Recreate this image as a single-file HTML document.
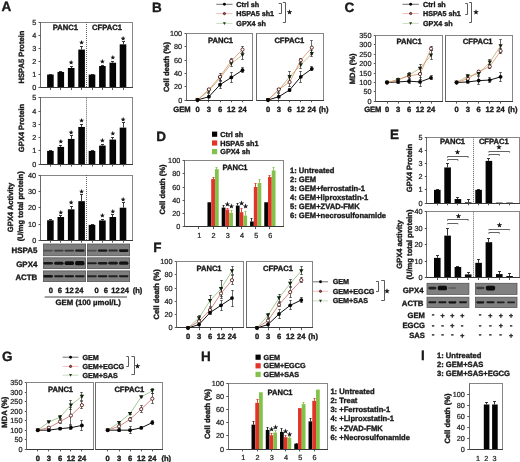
<!DOCTYPE html>
<html lang="en">
<head>
<meta charset="utf-8">
<title>Figure</title>
<style>
html,body{margin:0;padding:0;background:#fff;}
body{width:520px;height:462px;overflow:hidden;}
svg{display:block;font-family:"Liberation Sans",sans-serif;}
</style>
</head>
<body>
<svg width="520" height="462" viewBox="0 0 520 462" text-rendering="geometricPrecision">
<defs><filter id="bl" x="-30%" y="-60%" width="160%" height="220%"><feGaussianBlur stdDeviation="0.55"/></filter>
<filter id="soft"><feGaussianBlur stdDeviation="0.35"/></filter></defs>
<rect x="0" y="0" width="520" height="462" fill="#fff"/>
<g>
<text x="1.5" y="11.33" font-size="13.5" font-weight="bold" stroke="#1a1a1a" stroke-width="0.35" text-anchor="start" fill="#1a1a1a">A</text>
<rect x="47.1" y="74.56" width="6.6" height="13.14" fill="#050505"/>
<line x1="50.5" y1="74.5" x2="50.5" y2="74.56" stroke="#222" stroke-width="0.9"/>
<line x1="49" y1="74.5" x2="52" y2="74.5" stroke="#222" stroke-width="0.9"/>
<rect x="57.5" y="71.93" width="6.6" height="15.77" fill="#050505"/>
<line x1="60.5" y1="71.5" x2="60.5" y2="71.93" stroke="#222" stroke-width="0.9"/>
<line x1="59" y1="71.5" x2="62" y2="71.5" stroke="#222" stroke-width="0.9"/>
<rect x="67.9" y="67.99" width="6.6" height="19.71" fill="#050505"/>
<line x1="71.5" y1="66.5" x2="71.5" y2="67.99" stroke="#222" stroke-width="0.9"/>
<line x1="70" y1="66.5" x2="73" y2="66.5" stroke="#222" stroke-width="0.9"/>
<text x="71.2" y="63.91" font-size="4.7" font-family="DejaVu Sans, sans-serif" text-anchor="middle" fill="#0a0a0a" stroke="#0a0a0a" stroke-width="0.42">★</text>
<rect x="78.3" y="49.59" width="6.6" height="38.11" fill="#050505"/>
<line x1="81.5" y1="46.5" x2="81.5" y2="49.59" stroke="#222" stroke-width="0.9"/>
<line x1="80" y1="46.5" x2="83" y2="46.5" stroke="#222" stroke-width="0.9"/>
<text x="81.6" y="44.2" font-size="4.7" font-family="DejaVu Sans, sans-serif" text-anchor="middle" fill="#0a0a0a" stroke="#0a0a0a" stroke-width="0.42">★</text>
<rect x="88.7" y="74.56" width="6.6" height="13.14" fill="#050505"/>
<line x1="92.5" y1="74.5" x2="92.5" y2="74.56" stroke="#222" stroke-width="0.9"/>
<line x1="91" y1="74.5" x2="94" y2="74.5" stroke="#222" stroke-width="0.9"/>
<rect x="99.1" y="66.02" width="6.6" height="21.68" fill="#050505"/>
<line x1="102.5" y1="65.5" x2="102.5" y2="66.02" stroke="#222" stroke-width="0.9"/>
<line x1="101" y1="65.5" x2="104" y2="65.5" stroke="#222" stroke-width="0.9"/>
<text x="102.4" y="63.25" font-size="4.7" font-family="DejaVu Sans, sans-serif" text-anchor="middle" fill="#0a0a0a" stroke="#0a0a0a" stroke-width="0.42">★</text>
<rect x="109.5" y="62.73" width="6.6" height="24.97" fill="#050505"/>
<line x1="112.5" y1="61.5" x2="112.5" y2="62.73" stroke="#222" stroke-width="0.9"/>
<line x1="111" y1="61.5" x2="114" y2="61.5" stroke="#222" stroke-width="0.9"/>
<text x="112.8" y="59.05" font-size="4.7" font-family="DejaVu Sans, sans-serif" text-anchor="middle" fill="#0a0a0a" stroke="#0a0a0a" stroke-width="0.42">★</text>
<rect x="119.7" y="44.34" width="6.6" height="43.36" fill="#050505"/>
<line x1="123.5" y1="41.5" x2="123.5" y2="44.34" stroke="#222" stroke-width="0.9"/>
<line x1="122" y1="41.5" x2="125" y2="41.5" stroke="#222" stroke-width="0.9"/>
<text x="123" y="39.86" font-size="4.7" font-family="DejaVu Sans, sans-serif" text-anchor="middle" fill="#0a0a0a" stroke="#0a0a0a" stroke-width="0.42">★</text>
<rect x="40.5" y="22.5" width="92" height="65" fill="none" stroke="#868686" stroke-width="1"/>
<line x1="40" y1="87.5" x2="133" y2="87.5" stroke="#3a3a3a" stroke-width="1"/>
<line x1="40.5" y1="22.5" x2="40.5" y2="87.5" stroke="#6a6a6a" stroke-width="1"/>
<line x1="86.5" y1="22" x2="86.5" y2="87.7" stroke="#555" stroke-width="0.9" stroke-dasharray="1 1"/>
<line x1="38.5" y1="87.5" x2="40.5" y2="87.5" stroke="#444" stroke-width="0.9"/>
<text x="36.2" y="90.11" font-size="7.3" stroke="#222" stroke-width="0.22" text-anchor="end" fill="#222">0</text>
<line x1="38.5" y1="74.5" x2="40.5" y2="74.5" stroke="#444" stroke-width="0.9"/>
<text x="36.2" y="77.11" font-size="7.3" stroke="#222" stroke-width="0.22" text-anchor="end" fill="#222">1</text>
<line x1="38.5" y1="61.5" x2="40.5" y2="61.5" stroke="#444" stroke-width="0.9"/>
<text x="36.2" y="64.11" font-size="7.3" stroke="#222" stroke-width="0.22" text-anchor="end" fill="#222">2</text>
<line x1="38.5" y1="48.5" x2="40.5" y2="48.5" stroke="#444" stroke-width="0.9"/>
<text x="36.2" y="51.11" font-size="7.3" stroke="#222" stroke-width="0.22" text-anchor="end" fill="#222">3</text>
<line x1="38.5" y1="35.5" x2="40.5" y2="35.5" stroke="#444" stroke-width="0.9"/>
<text x="36.2" y="38.11" font-size="7.3" stroke="#222" stroke-width="0.22" text-anchor="end" fill="#222">4</text>
<line x1="38.5" y1="22.5" x2="40.5" y2="22.5" stroke="#444" stroke-width="0.9"/>
<text x="36.2" y="25.11" font-size="7.3" stroke="#222" stroke-width="0.22" text-anchor="end" fill="#222">5</text>
<line x1="50.5" y1="87.7" x2="50.5" y2="90" stroke="#444" stroke-width="0.9"/>
<line x1="60.5" y1="87.7" x2="60.5" y2="90" stroke="#444" stroke-width="0.9"/>
<line x1="71.5" y1="87.7" x2="71.5" y2="90" stroke="#444" stroke-width="0.9"/>
<line x1="81.5" y1="87.7" x2="81.5" y2="90" stroke="#444" stroke-width="0.9"/>
<line x1="92.5" y1="87.7" x2="92.5" y2="90" stroke="#444" stroke-width="0.9"/>
<line x1="102.5" y1="87.7" x2="102.5" y2="90" stroke="#444" stroke-width="0.9"/>
<line x1="112.5" y1="87.7" x2="112.5" y2="90" stroke="#444" stroke-width="0.9"/>
<line x1="123.5" y1="87.7" x2="123.5" y2="90" stroke="#444" stroke-width="0.9"/>
<rect x="47.1" y="150.9" width="6.6" height="13.3" fill="#050505"/>
<line x1="50.5" y1="150.5" x2="50.5" y2="150.9" stroke="#222" stroke-width="0.9"/>
<line x1="49" y1="150.5" x2="52" y2="150.5" stroke="#222" stroke-width="0.9"/>
<rect x="57.5" y="146.91" width="6.6" height="17.29" fill="#050505"/>
<line x1="60.5" y1="145.5" x2="60.5" y2="146.91" stroke="#222" stroke-width="0.9"/>
<line x1="59" y1="145.5" x2="62" y2="145.5" stroke="#222" stroke-width="0.9"/>
<text x="60.8" y="143.21" font-size="4.7" font-family="DejaVu Sans, sans-serif" text-anchor="middle" fill="#0a0a0a" stroke="#0a0a0a" stroke-width="0.42">★</text>
<rect x="67.9" y="138.93" width="6.6" height="25.27" fill="#050505"/>
<line x1="71.5" y1="135.5" x2="71.5" y2="138.93" stroke="#222" stroke-width="0.9"/>
<line x1="70" y1="135.5" x2="73" y2="135.5" stroke="#222" stroke-width="0.9"/>
<text x="71.2" y="133.5" font-size="4.7" font-family="DejaVu Sans, sans-serif" text-anchor="middle" fill="#0a0a0a" stroke="#0a0a0a" stroke-width="0.42">★</text>
<rect x="78.3" y="126.96" width="6.6" height="37.24" fill="#050505"/>
<line x1="81.5" y1="124.5" x2="81.5" y2="126.96" stroke="#222" stroke-width="0.9"/>
<line x1="80" y1="124.5" x2="83" y2="124.5" stroke="#222" stroke-width="0.9"/>
<text x="81.6" y="122.46" font-size="4.7" font-family="DejaVu Sans, sans-serif" text-anchor="middle" fill="#0a0a0a" stroke="#0a0a0a" stroke-width="0.42">★</text>
<rect x="88.7" y="150.9" width="6.6" height="13.3" fill="#050505"/>
<line x1="92.5" y1="150.5" x2="92.5" y2="150.9" stroke="#222" stroke-width="0.9"/>
<line x1="91" y1="150.5" x2="94" y2="150.5" stroke="#222" stroke-width="0.9"/>
<rect x="99.1" y="145.58" width="6.6" height="18.62" fill="#050505"/>
<line x1="102.5" y1="144.5" x2="102.5" y2="145.58" stroke="#222" stroke-width="0.9"/>
<line x1="101" y1="144.5" x2="104" y2="144.5" stroke="#222" stroke-width="0.9"/>
<text x="102.4" y="142.14" font-size="4.7" font-family="DejaVu Sans, sans-serif" text-anchor="middle" fill="#0a0a0a" stroke="#0a0a0a" stroke-width="0.42">★</text>
<rect x="109.5" y="139.59" width="6.6" height="24.6" fill="#050505"/>
<line x1="112.5" y1="137.5" x2="112.5" y2="139.59" stroke="#222" stroke-width="0.9"/>
<line x1="111" y1="137.5" x2="114" y2="137.5" stroke="#222" stroke-width="0.9"/>
<text x="112.8" y="135.49" font-size="4.7" font-family="DejaVu Sans, sans-serif" text-anchor="middle" fill="#0a0a0a" stroke="#0a0a0a" stroke-width="0.42">★</text>
<rect x="119.7" y="127.62" width="6.6" height="36.57" fill="#050505"/>
<line x1="123.5" y1="122.5" x2="123.5" y2="127.62" stroke="#222" stroke-width="0.9"/>
<line x1="122" y1="122.5" x2="125" y2="122.5" stroke="#222" stroke-width="0.9"/>
<text x="123" y="120.86" font-size="4.7" font-family="DejaVu Sans, sans-serif" text-anchor="middle" fill="#0a0a0a" stroke="#0a0a0a" stroke-width="0.42">★</text>
<rect x="40.5" y="97.5" width="92" height="67" fill="none" stroke="#868686" stroke-width="1"/>
<line x1="40" y1="164.5" x2="133" y2="164.5" stroke="#3a3a3a" stroke-width="1"/>
<line x1="40.5" y1="97.5" x2="40.5" y2="164.5" stroke="#6a6a6a" stroke-width="1"/>
<line x1="86.5" y1="97.7" x2="86.5" y2="164.2" stroke="#555" stroke-width="0.9" stroke-dasharray="1 1"/>
<line x1="38.5" y1="164.5" x2="40.5" y2="164.5" stroke="#444" stroke-width="0.9"/>
<text x="36.2" y="167.11" font-size="7.3" stroke="#222" stroke-width="0.22" text-anchor="end" fill="#222">0</text>
<line x1="38.5" y1="150.5" x2="40.5" y2="150.5" stroke="#444" stroke-width="0.9"/>
<text x="36.2" y="153.11" font-size="7.3" stroke="#222" stroke-width="0.22" text-anchor="end" fill="#222">1</text>
<line x1="38.5" y1="137.5" x2="40.5" y2="137.5" stroke="#444" stroke-width="0.9"/>
<text x="36.2" y="140.11" font-size="7.3" stroke="#222" stroke-width="0.22" text-anchor="end" fill="#222">2</text>
<line x1="38.5" y1="124.5" x2="40.5" y2="124.5" stroke="#444" stroke-width="0.9"/>
<text x="36.2" y="127.11" font-size="7.3" stroke="#222" stroke-width="0.22" text-anchor="end" fill="#222">3</text>
<line x1="38.5" y1="111.5" x2="40.5" y2="111.5" stroke="#444" stroke-width="0.9"/>
<text x="36.2" y="114.11" font-size="7.3" stroke="#222" stroke-width="0.22" text-anchor="end" fill="#222">4</text>
<line x1="38.5" y1="97.5" x2="40.5" y2="97.5" stroke="#444" stroke-width="0.9"/>
<text x="36.2" y="100.11" font-size="7.3" stroke="#222" stroke-width="0.22" text-anchor="end" fill="#222">5</text>
<line x1="50.5" y1="164.2" x2="50.5" y2="166.5" stroke="#444" stroke-width="0.9"/>
<line x1="60.5" y1="164.2" x2="60.5" y2="166.5" stroke="#444" stroke-width="0.9"/>
<line x1="71.5" y1="164.2" x2="71.5" y2="166.5" stroke="#444" stroke-width="0.9"/>
<line x1="81.5" y1="164.2" x2="81.5" y2="166.5" stroke="#444" stroke-width="0.9"/>
<line x1="92.5" y1="164.2" x2="92.5" y2="166.5" stroke="#444" stroke-width="0.9"/>
<line x1="102.5" y1="164.2" x2="102.5" y2="166.5" stroke="#444" stroke-width="0.9"/>
<line x1="112.5" y1="164.2" x2="112.5" y2="166.5" stroke="#444" stroke-width="0.9"/>
<line x1="123.5" y1="164.2" x2="123.5" y2="166.5" stroke="#444" stroke-width="0.9"/>
<rect x="47.1" y="220.29" width="6.6" height="20.11" fill="#050505"/>
<line x1="50.5" y1="219.5" x2="50.5" y2="220.29" stroke="#222" stroke-width="0.9"/>
<line x1="49" y1="219.5" x2="52" y2="219.5" stroke="#222" stroke-width="0.9"/>
<rect x="57.5" y="217.02" width="6.6" height="23.38" fill="#050505"/>
<line x1="60.5" y1="215.5" x2="60.5" y2="217.02" stroke="#222" stroke-width="0.9"/>
<line x1="59" y1="215.5" x2="62" y2="215.5" stroke="#222" stroke-width="0.9"/>
<text x="60.8" y="213.6" font-size="4.7" font-family="DejaVu Sans, sans-serif" text-anchor="middle" fill="#0a0a0a" stroke="#0a0a0a" stroke-width="0.42">★</text>
<rect x="67.9" y="209.34" width="6.6" height="31.06" fill="#050505"/>
<line x1="71.5" y1="206.5" x2="71.5" y2="209.34" stroke="#222" stroke-width="0.9"/>
<line x1="70" y1="206.5" x2="73" y2="206.5" stroke="#222" stroke-width="0.9"/>
<text x="71.2" y="204.28" font-size="4.7" font-family="DejaVu Sans, sans-serif" text-anchor="middle" fill="#0a0a0a" stroke="#0a0a0a" stroke-width="0.42">★</text>
<rect x="78.3" y="201.16" width="6.6" height="39.24" fill="#050505"/>
<line x1="81.5" y1="194.5" x2="81.5" y2="201.16" stroke="#222" stroke-width="0.9"/>
<line x1="80" y1="194.5" x2="83" y2="194.5" stroke="#222" stroke-width="0.9"/>
<text x="81.6" y="192.84" font-size="4.7" font-family="DejaVu Sans, sans-serif" text-anchor="middle" fill="#0a0a0a" stroke="#0a0a0a" stroke-width="0.42">★</text>
<rect x="88.7" y="224.87" width="6.6" height="15.53" fill="#050505"/>
<line x1="92.5" y1="224.5" x2="92.5" y2="224.87" stroke="#222" stroke-width="0.9"/>
<line x1="91" y1="224.5" x2="94" y2="224.5" stroke="#222" stroke-width="0.9"/>
<rect x="99.1" y="220.45" width="6.6" height="19.95" fill="#050505"/>
<line x1="102.5" y1="219.5" x2="102.5" y2="220.45" stroke="#222" stroke-width="0.9"/>
<line x1="101" y1="219.5" x2="104" y2="219.5" stroke="#222" stroke-width="0.9"/>
<text x="102.4" y="217.04" font-size="4.7" font-family="DejaVu Sans, sans-serif" text-anchor="middle" fill="#0a0a0a" stroke="#0a0a0a" stroke-width="0.42">★</text>
<rect x="109.5" y="217.02" width="6.6" height="23.38" fill="#050505"/>
<line x1="112.5" y1="214.5" x2="112.5" y2="217.02" stroke="#222" stroke-width="0.9"/>
<line x1="111" y1="214.5" x2="114" y2="214.5" stroke="#222" stroke-width="0.9"/>
<text x="112.8" y="212.79" font-size="4.7" font-family="DejaVu Sans, sans-serif" text-anchor="middle" fill="#0a0a0a" stroke="#0a0a0a" stroke-width="0.42">★</text>
<rect x="119.7" y="207.7" width="6.6" height="32.7" fill="#050505"/>
<line x1="123.5" y1="202.5" x2="123.5" y2="207.7" stroke="#222" stroke-width="0.9"/>
<line x1="122" y1="202.5" x2="125" y2="202.5" stroke="#222" stroke-width="0.9"/>
<text x="123" y="200.69" font-size="4.7" font-family="DejaVu Sans, sans-serif" text-anchor="middle" fill="#0a0a0a" stroke="#0a0a0a" stroke-width="0.42">★</text>
<rect x="40.5" y="175.5" width="92" height="65" fill="none" stroke="#868686" stroke-width="1"/>
<line x1="40" y1="240.5" x2="133" y2="240.5" stroke="#3a3a3a" stroke-width="1"/>
<line x1="40.5" y1="175.5" x2="40.5" y2="240.5" stroke="#6a6a6a" stroke-width="1"/>
<line x1="86.5" y1="175" x2="86.5" y2="240.4" stroke="#555" stroke-width="0.9" stroke-dasharray="1 1"/>
<line x1="38.5" y1="240.5" x2="40.5" y2="240.5" stroke="#444" stroke-width="0.9"/>
<text x="36.2" y="243.11" font-size="7.3" stroke="#222" stroke-width="0.22" text-anchor="end" fill="#222">0</text>
<line x1="38.5" y1="224.5" x2="40.5" y2="224.5" stroke="#444" stroke-width="0.9"/>
<text x="36.2" y="227.11" font-size="7.3" stroke="#222" stroke-width="0.22" text-anchor="end" fill="#222">10</text>
<line x1="38.5" y1="207.5" x2="40.5" y2="207.5" stroke="#444" stroke-width="0.9"/>
<text x="36.2" y="210.11" font-size="7.3" stroke="#222" stroke-width="0.22" text-anchor="end" fill="#222">20</text>
<line x1="38.5" y1="191.5" x2="40.5" y2="191.5" stroke="#444" stroke-width="0.9"/>
<text x="36.2" y="194.11" font-size="7.3" stroke="#222" stroke-width="0.22" text-anchor="end" fill="#222">30</text>
<line x1="38.5" y1="175.5" x2="40.5" y2="175.5" stroke="#444" stroke-width="0.9"/>
<text x="36.2" y="178.11" font-size="7.3" stroke="#222" stroke-width="0.22" text-anchor="end" fill="#222">40</text>
<line x1="50.5" y1="240.4" x2="50.5" y2="242.7" stroke="#444" stroke-width="0.9"/>
<line x1="60.5" y1="240.4" x2="60.5" y2="242.7" stroke="#444" stroke-width="0.9"/>
<line x1="71.5" y1="240.4" x2="71.5" y2="242.7" stroke="#444" stroke-width="0.9"/>
<line x1="81.5" y1="240.4" x2="81.5" y2="242.7" stroke="#444" stroke-width="0.9"/>
<line x1="92.5" y1="240.4" x2="92.5" y2="242.7" stroke="#444" stroke-width="0.9"/>
<line x1="102.5" y1="240.4" x2="102.5" y2="242.7" stroke="#444" stroke-width="0.9"/>
<line x1="112.5" y1="240.4" x2="112.5" y2="242.7" stroke="#444" stroke-width="0.9"/>
<line x1="123.5" y1="240.4" x2="123.5" y2="242.7" stroke="#444" stroke-width="0.9"/>
<text x="65.3" y="29.72" font-size="7.6" font-weight="bold" stroke="#1a1a1a" stroke-width="0.35" text-anchor="middle" fill="#1a1a1a">PANC1</text>
<text x="107" y="29.72" font-size="7.6" font-weight="bold" stroke="#1a1a1a" stroke-width="0.35" text-anchor="middle" fill="#1a1a1a">CFPAC1</text>
<text transform="translate(21.5 57) rotate(-90)" x="0" y="2.72" font-size="7.6" font-weight="bold" stroke="#1a1a1a" stroke-width="0.35" text-anchor="middle" fill="#1a1a1a">HSPA5 Protein</text>
<text transform="translate(21.5 128) rotate(-90)" x="0" y="2.72" font-size="7.6" font-weight="bold" stroke="#1a1a1a" stroke-width="0.35" text-anchor="middle" fill="#1a1a1a">GPX4 Protein</text>
<text transform="translate(10.3 207.5) rotate(-90)" x="0" y="2.72" font-size="7.6" font-weight="bold" stroke="#1a1a1a" stroke-width="0.35" text-anchor="middle" fill="#1a1a1a">GPX4 Activity</text>
<text transform="translate(19.9 206.3) rotate(-90)" x="0" y="2.72" font-size="7.6" font-weight="bold" stroke="#1a1a1a" stroke-width="0.35" text-anchor="middle" fill="#1a1a1a">(U/mg total protein)</text>
<rect x="43.5" y="244" width="42.1" height="11.8" fill="#7e7e7e" stroke="#555" stroke-width="0.8"/>
<rect x="87.5" y="244" width="42.1" height="11.8" fill="#7e7e7e" stroke="#555" stroke-width="0.8"/>
<rect x="43.4" y="249.8" width="9.4" height="1.6" rx="0.8" fill="#0a0a0a" opacity="0.4" filter="url(#bl)"/>
<rect x="54.1" y="249.75" width="9.4" height="1.7" rx="0.85" fill="#0a0a0a" opacity="0.55" filter="url(#bl)"/>
<rect x="64.6" y="249.7" width="9.4" height="1.8" rx="0.9" fill="#0a0a0a" opacity="0.65" filter="url(#bl)"/>
<rect x="75.1" y="249.5" width="9.4" height="2.2" rx="1.1" fill="#0a0a0a" opacity="0.85" filter="url(#bl)"/>
<rect x="87.3" y="249.8" width="9.4" height="1.6" rx="0.8" fill="#0a0a0a" opacity="0.4" filter="url(#bl)"/>
<rect x="97.9" y="249.45" width="9.4" height="2.3" rx="1.15" fill="#0a0a0a" opacity="0.9" filter="url(#bl)"/>
<rect x="108.4" y="249.6" width="9.4" height="2" rx="1" fill="#0a0a0a" opacity="0.7" filter="url(#bl)"/>
<rect x="119" y="249.3" width="9.4" height="2.6" rx="1.3" fill="#0a0a0a" opacity="0.95" filter="url(#bl)"/>
<text x="37.3" y="253.03" font-size="7.9" font-weight="bold" stroke="#1a1a1a" stroke-width="0.35" text-anchor="end" fill="#1a1a1a">HSPA5</text>
<rect x="43.5" y="257.8" width="42.1" height="10.8" fill="#7e7e7e" stroke="#555" stroke-width="0.8"/>
<rect x="87.5" y="257.8" width="42.1" height="10.8" fill="#7e7e7e" stroke="#555" stroke-width="0.8"/>
<rect x="43.4" y="262" width="9.4" height="2.4" rx="1.2" fill="#0a0a0a" opacity="0.9" filter="url(#bl)"/>
<rect x="54.1" y="261.7" width="9.4" height="3" rx="1.5" fill="#0a0a0a" opacity="0.95" filter="url(#bl)"/>
<rect x="64.6" y="261.3" width="9.4" height="3.8" rx="1.6" fill="#0a0a0a" opacity="1" filter="url(#bl)"/>
<rect x="75.1" y="261.1" width="9.4" height="4.2" rx="1.6" fill="#0a0a0a" opacity="1" filter="url(#bl)"/>
<rect x="87.3" y="262.2" width="9.4" height="2" rx="1" fill="#0a0a0a" opacity="0.85" filter="url(#bl)"/>
<rect x="97.9" y="261.9" width="9.4" height="2.6" rx="1.3" fill="#0a0a0a" opacity="0.9" filter="url(#bl)"/>
<rect x="108.4" y="261.8" width="9.4" height="2.8" rx="1.4" fill="#0a0a0a" opacity="0.9" filter="url(#bl)"/>
<rect x="119" y="261.6" width="9.4" height="3.2" rx="1.6" fill="#0a0a0a" opacity="0.95" filter="url(#bl)"/>
<text x="37.3" y="267.23" font-size="7.9" font-weight="bold" stroke="#1a1a1a" stroke-width="0.35" text-anchor="end" fill="#1a1a1a">GPX4</text>
<rect x="43.5" y="270.9" width="42.1" height="10.7" fill="#7e7e7e" stroke="#555" stroke-width="0.8"/>
<rect x="87.5" y="270.9" width="42.1" height="10.7" fill="#7e7e7e" stroke="#555" stroke-width="0.8"/>
<rect x="43.4" y="275.05" width="9.4" height="2.4" rx="1.2" fill="#0a0a0a" opacity="0.95" filter="url(#bl)"/>
<rect x="54.1" y="275.2" width="9.4" height="2.1" rx="1.05" fill="#0a0a0a" opacity="0.9" filter="url(#bl)"/>
<rect x="64.6" y="275.15" width="9.4" height="2.2" rx="1.1" fill="#0a0a0a" opacity="0.95" filter="url(#bl)"/>
<rect x="75.1" y="275.2" width="9.4" height="2.1" rx="1.05" fill="#0a0a0a" opacity="0.9" filter="url(#bl)"/>
<rect x="87.3" y="275.35" width="9.4" height="1.8" rx="0.9" fill="#0a0a0a" opacity="0.8" filter="url(#bl)"/>
<rect x="97.9" y="275.2" width="9.4" height="2.1" rx="1.05" fill="#0a0a0a" opacity="0.9" filter="url(#bl)"/>
<rect x="108.4" y="275.35" width="9.4" height="1.8" rx="0.9" fill="#0a0a0a" opacity="0.8" filter="url(#bl)"/>
<rect x="119" y="275.2" width="9.4" height="2.1" rx="1.05" fill="#0a0a0a" opacity="0.9" filter="url(#bl)"/>
<text x="37.3" y="280.23" font-size="7.9" font-weight="bold" stroke="#1a1a1a" stroke-width="0.35" text-anchor="end" fill="#1a1a1a">ACTB</text>
<text x="50.8" y="292.52" font-size="7.6" font-weight="bold" stroke="#1a1a1a" stroke-width="0.35" text-anchor="middle" fill="#1a1a1a">0</text>
<text x="59.8" y="292.52" font-size="7.6" font-weight="bold" stroke="#1a1a1a" stroke-width="0.35" text-anchor="middle" fill="#1a1a1a">6</text>
<text x="69.6" y="292.52" font-size="7.6" font-weight="bold" stroke="#1a1a1a" stroke-width="0.35" text-anchor="middle" fill="#1a1a1a">12</text>
<text x="79.2" y="292.52" font-size="7.6" font-weight="bold" stroke="#1a1a1a" stroke-width="0.35" text-anchor="middle" fill="#1a1a1a">24</text>
<text x="96.6" y="292.52" font-size="7.6" font-weight="bold" stroke="#1a1a1a" stroke-width="0.35" text-anchor="middle" fill="#1a1a1a">0</text>
<text x="105.9" y="292.52" font-size="7.6" font-weight="bold" stroke="#1a1a1a" stroke-width="0.35" text-anchor="middle" fill="#1a1a1a">6</text>
<text x="115.4" y="292.52" font-size="7.6" font-weight="bold" stroke="#1a1a1a" stroke-width="0.35" text-anchor="middle" fill="#1a1a1a">12</text>
<text x="124.8" y="292.52" font-size="7.6" font-weight="bold" stroke="#1a1a1a" stroke-width="0.35" text-anchor="middle" fill="#1a1a1a">24</text>
<text x="137.5" y="292.52" font-size="7.6" font-weight="bold" stroke="#1a1a1a" stroke-width="0.35" text-anchor="middle" fill="#1a1a1a">(h)</text>
<line x1="44.7" y1="297" x2="127" y2="297" stroke="#444" stroke-width="1"/>
<text x="88.2" y="305.37" font-size="7.75" font-weight="bold" stroke="#1a1a1a" stroke-width="0.35" text-anchor="middle" fill="#1a1a1a">GEM (100 µmol/L)</text>
<text x="152" y="11.63" font-size="13.5" font-weight="bold" stroke="#1a1a1a" stroke-width="0.35" text-anchor="start" fill="#1a1a1a">B</text>
<line x1="184.5" y1="100.5" x2="186.5" y2="100.5" stroke="#444" stroke-width="0.9"/>
<text x="182.2" y="103.11" font-size="7.3" stroke="#222" stroke-width="0.22" text-anchor="end" fill="#222">0</text>
<line x1="184.5" y1="86.5" x2="186.5" y2="86.5" stroke="#444" stroke-width="0.9"/>
<text x="182.2" y="89.11" font-size="7.3" stroke="#222" stroke-width="0.22" text-anchor="end" fill="#222">20</text>
<line x1="184.5" y1="73.5" x2="186.5" y2="73.5" stroke="#444" stroke-width="0.9"/>
<text x="182.2" y="76.11" font-size="7.3" stroke="#222" stroke-width="0.22" text-anchor="end" fill="#222">40</text>
<line x1="184.5" y1="60.5" x2="186.5" y2="60.5" stroke="#444" stroke-width="0.9"/>
<text x="182.2" y="63.11" font-size="7.3" stroke="#222" stroke-width="0.22" text-anchor="end" fill="#222">60</text>
<line x1="184.5" y1="46.5" x2="186.5" y2="46.5" stroke="#444" stroke-width="0.9"/>
<text x="182.2" y="49.11" font-size="7.3" stroke="#222" stroke-width="0.22" text-anchor="end" fill="#222">80</text>
<line x1="184.5" y1="33.5" x2="186.5" y2="33.5" stroke="#444" stroke-width="0.9"/>
<text x="182.2" y="36.11" font-size="7.3" stroke="#222" stroke-width="0.22" text-anchor="end" fill="#222">100</text>
<text transform="translate(166.3 67) rotate(-90)" x="0" y="2.72" font-size="7.6" font-weight="bold" stroke="#1a1a1a" stroke-width="0.35" text-anchor="middle" fill="#1a1a1a">Cell death (%)</text>
<rect x="186.5" y="33.5" width="66" height="67" fill="none" stroke="#868686" stroke-width="1"/>
<line x1="186" y1="100.5" x2="253" y2="100.5" stroke="#3a3a3a" stroke-width="1"/>
<line x1="186.5" y1="33.5" x2="186.5" y2="100.5" stroke="#6a6a6a" stroke-width="1"/>
<line x1="197.5" y1="100" x2="197.5" y2="102.3" stroke="#444" stroke-width="0.9"/>
<line x1="208.5" y1="100" x2="208.5" y2="102.3" stroke="#444" stroke-width="0.9"/>
<line x1="220.5" y1="100" x2="220.5" y2="102.3" stroke="#444" stroke-width="0.9"/>
<line x1="231.5" y1="100" x2="231.5" y2="102.3" stroke="#444" stroke-width="0.9"/>
<line x1="242.5" y1="100" x2="242.5" y2="102.3" stroke="#444" stroke-width="0.9"/>
<text x="220.5" y="43.12" font-size="7.6" font-weight="bold" stroke="#1a1a1a" stroke-width="0.35" text-anchor="middle" fill="#1a1a1a">PANC1</text>
<polyline points="197.5,100 208.9,96.69 220,84.75 231.3,77.46 242.5,70.16" fill="none" stroke="#111" stroke-width="1"/>
<polyline points="197.5,100 208.9,90.72 220,78.12 231.3,63.53 242.5,54.92" fill="none" stroke="#bfa974" stroke-width="0.8"/>
<polyline points="197.5,100 208.9,89.39 220,76.8 231.3,60.88 242.5,49.61" fill="none" stroke="#d98f62" stroke-width="0.8"/>
<line x1="208.5" y1="93.5" x2="208.5" y2="100.5" stroke="#2a2a2a" stroke-width="0.7"/>
<line x1="207.2" y1="93.5" x2="209.8" y2="93.5" stroke="#2a2a2a" stroke-width="0.7"/>
<line x1="207.2" y1="100.5" x2="209.8" y2="100.5" stroke="#2a2a2a" stroke-width="0.7"/>
<line x1="220.5" y1="81.5" x2="220.5" y2="88.5" stroke="#2a2a2a" stroke-width="0.7"/>
<line x1="219.2" y1="81.5" x2="221.8" y2="81.5" stroke="#2a2a2a" stroke-width="0.7"/>
<line x1="219.2" y1="88.5" x2="221.8" y2="88.5" stroke="#2a2a2a" stroke-width="0.7"/>
<line x1="231.5" y1="72.5" x2="231.5" y2="82.5" stroke="#2a2a2a" stroke-width="0.7"/>
<line x1="230.2" y1="72.5" x2="232.8" y2="72.5" stroke="#2a2a2a" stroke-width="0.7"/>
<line x1="230.2" y1="82.5" x2="232.8" y2="82.5" stroke="#2a2a2a" stroke-width="0.7"/>
<line x1="242.5" y1="67.5" x2="242.5" y2="72.5" stroke="#2a2a2a" stroke-width="0.7"/>
<line x1="241.2" y1="67.5" x2="243.8" y2="67.5" stroke="#2a2a2a" stroke-width="0.7"/>
<line x1="241.2" y1="72.5" x2="243.8" y2="72.5" stroke="#2a2a2a" stroke-width="0.7"/>
<line x1="208.5" y1="88.5" x2="208.5" y2="92.5" stroke="#2a2a2a" stroke-width="0.7"/>
<line x1="207.2" y1="88.5" x2="209.8" y2="88.5" stroke="#2a2a2a" stroke-width="0.7"/>
<line x1="207.2" y1="92.5" x2="209.8" y2="92.5" stroke="#2a2a2a" stroke-width="0.7"/>
<line x1="220.5" y1="75.5" x2="220.5" y2="80.5" stroke="#2a2a2a" stroke-width="0.7"/>
<line x1="219.2" y1="75.5" x2="221.8" y2="75.5" stroke="#2a2a2a" stroke-width="0.7"/>
<line x1="219.2" y1="80.5" x2="221.8" y2="80.5" stroke="#2a2a2a" stroke-width="0.7"/>
<line x1="231.5" y1="60.5" x2="231.5" y2="66.5" stroke="#2a2a2a" stroke-width="0.7"/>
<line x1="230.2" y1="60.5" x2="232.8" y2="60.5" stroke="#2a2a2a" stroke-width="0.7"/>
<line x1="230.2" y1="66.5" x2="232.8" y2="66.5" stroke="#2a2a2a" stroke-width="0.7"/>
<line x1="242.5" y1="50.5" x2="242.5" y2="59.5" stroke="#2a2a2a" stroke-width="0.7"/>
<line x1="241.2" y1="50.5" x2="243.8" y2="50.5" stroke="#2a2a2a" stroke-width="0.7"/>
<line x1="241.2" y1="59.5" x2="243.8" y2="59.5" stroke="#2a2a2a" stroke-width="0.7"/>
<line x1="208.5" y1="88.5" x2="208.5" y2="90.5" stroke="#2a2a2a" stroke-width="0.7"/>
<line x1="207.2" y1="88.5" x2="209.8" y2="88.5" stroke="#2a2a2a" stroke-width="0.7"/>
<line x1="207.2" y1="90.5" x2="209.8" y2="90.5" stroke="#2a2a2a" stroke-width="0.7"/>
<line x1="220.5" y1="73.5" x2="220.5" y2="80.5" stroke="#2a2a2a" stroke-width="0.7"/>
<line x1="219.2" y1="73.5" x2="221.8" y2="73.5" stroke="#2a2a2a" stroke-width="0.7"/>
<line x1="219.2" y1="80.5" x2="221.8" y2="80.5" stroke="#2a2a2a" stroke-width="0.7"/>
<line x1="231.5" y1="58.5" x2="231.5" y2="62.5" stroke="#2a2a2a" stroke-width="0.7"/>
<line x1="230.2" y1="58.5" x2="232.8" y2="58.5" stroke="#2a2a2a" stroke-width="0.7"/>
<line x1="230.2" y1="62.5" x2="232.8" y2="62.5" stroke="#2a2a2a" stroke-width="0.7"/>
<line x1="242.5" y1="46.5" x2="242.5" y2="52.5" stroke="#2a2a2a" stroke-width="0.7"/>
<line x1="241.2" y1="46.5" x2="243.8" y2="46.5" stroke="#2a2a2a" stroke-width="0.7"/>
<line x1="241.2" y1="52.5" x2="243.8" y2="52.5" stroke="#2a2a2a" stroke-width="0.7"/>
<path d="M195.35 98.3L199.65 98.3L197.5 102.2Z" fill="#10200c"/>
<path d="M206.75 89.02L211.05 89.02L208.9 92.92Z" fill="#10200c"/>
<path d="M217.85 76.42L222.15 76.42L220 80.32Z" fill="#10200c"/>
<path d="M229.15 61.83L233.45 61.83L231.3 65.73Z" fill="#10200c"/>
<path d="M240.35 53.22L244.65 53.22L242.5 57.12Z" fill="#10200c"/>
<circle cx="197.5" cy="100" r="1.6" fill="#fff" stroke="#4a1612" stroke-width="0.85"/>
<circle cx="208.9" cy="89.39" r="1.6" fill="#fff" stroke="#4a1612" stroke-width="0.85"/>
<circle cx="220" cy="76.8" r="1.6" fill="#fff" stroke="#4a1612" stroke-width="0.85"/>
<circle cx="231.3" cy="60.88" r="1.6" fill="#fff" stroke="#4a1612" stroke-width="0.85"/>
<circle cx="242.5" cy="49.61" r="1.6" fill="#fff" stroke="#4a1612" stroke-width="0.85"/>
<circle cx="197.5" cy="100" r="1.9" fill="#050505"/>
<circle cx="208.9" cy="96.69" r="1.9" fill="#050505"/>
<circle cx="220" cy="84.75" r="1.9" fill="#050505"/>
<circle cx="231.3" cy="77.46" r="1.9" fill="#050505"/>
<circle cx="242.5" cy="70.16" r="1.9" fill="#050505"/>
<rect x="256.5" y="33.5" width="67" height="67" fill="none" stroke="#868686" stroke-width="1"/>
<line x1="256" y1="100.5" x2="324" y2="100.5" stroke="#3a3a3a" stroke-width="1"/>
<line x1="256.5" y1="33.5" x2="256.5" y2="100.5" stroke="#6a6a6a" stroke-width="1"/>
<line x1="268.5" y1="100" x2="268.5" y2="102.3" stroke="#444" stroke-width="0.9"/>
<line x1="278.5" y1="100" x2="278.5" y2="102.3" stroke="#444" stroke-width="0.9"/>
<line x1="289.5" y1="100" x2="289.5" y2="102.3" stroke="#444" stroke-width="0.9"/>
<line x1="300.5" y1="100" x2="300.5" y2="102.3" stroke="#444" stroke-width="0.9"/>
<line x1="311.5" y1="100" x2="311.5" y2="102.3" stroke="#444" stroke-width="0.9"/>
<text x="289.3" y="43.12" font-size="7.6" font-weight="bold" stroke="#1a1a1a" stroke-width="0.35" text-anchor="middle" fill="#1a1a1a">CFPAC1</text>
<polyline points="268,100 278.8,96.69 289.6,90.06 300.8,76.8 311.8,68.84" fill="none" stroke="#111" stroke-width="1"/>
<polyline points="268,100 278.8,90.06 289.6,76.8 300.8,64.86 311.8,53.59" fill="none" stroke="#bfa974" stroke-width="0.8"/>
<polyline points="268,100 278.8,89.39 289.6,82.1 300.8,60.22 311.8,47.62" fill="none" stroke="#d98f62" stroke-width="0.8"/>
<line x1="278.5" y1="93.5" x2="278.5" y2="100.5" stroke="#2a2a2a" stroke-width="0.7"/>
<line x1="277.2" y1="93.5" x2="279.8" y2="93.5" stroke="#2a2a2a" stroke-width="0.7"/>
<line x1="277.2" y1="100.5" x2="279.8" y2="100.5" stroke="#2a2a2a" stroke-width="0.7"/>
<line x1="289.5" y1="88.5" x2="289.5" y2="91.5" stroke="#2a2a2a" stroke-width="0.7"/>
<line x1="288.2" y1="88.5" x2="290.8" y2="88.5" stroke="#2a2a2a" stroke-width="0.7"/>
<line x1="288.2" y1="91.5" x2="290.8" y2="91.5" stroke="#2a2a2a" stroke-width="0.7"/>
<line x1="300.5" y1="71.5" x2="300.5" y2="82.5" stroke="#2a2a2a" stroke-width="0.7"/>
<line x1="299.2" y1="71.5" x2="301.8" y2="71.5" stroke="#2a2a2a" stroke-width="0.7"/>
<line x1="299.2" y1="82.5" x2="301.8" y2="82.5" stroke="#2a2a2a" stroke-width="0.7"/>
<line x1="311.5" y1="66.5" x2="311.5" y2="70.5" stroke="#2a2a2a" stroke-width="0.7"/>
<line x1="310.2" y1="66.5" x2="312.8" y2="66.5" stroke="#2a2a2a" stroke-width="0.7"/>
<line x1="310.2" y1="70.5" x2="312.8" y2="70.5" stroke="#2a2a2a" stroke-width="0.7"/>
<line x1="278.5" y1="88.5" x2="278.5" y2="92.5" stroke="#2a2a2a" stroke-width="0.7"/>
<line x1="277.2" y1="88.5" x2="279.8" y2="88.5" stroke="#2a2a2a" stroke-width="0.7"/>
<line x1="277.2" y1="92.5" x2="279.8" y2="92.5" stroke="#2a2a2a" stroke-width="0.7"/>
<line x1="289.5" y1="71.5" x2="289.5" y2="82.5" stroke="#2a2a2a" stroke-width="0.7"/>
<line x1="288.2" y1="71.5" x2="290.8" y2="71.5" stroke="#2a2a2a" stroke-width="0.7"/>
<line x1="288.2" y1="82.5" x2="290.8" y2="82.5" stroke="#2a2a2a" stroke-width="0.7"/>
<line x1="300.5" y1="60.5" x2="300.5" y2="68.5" stroke="#2a2a2a" stroke-width="0.7"/>
<line x1="299.2" y1="60.5" x2="301.8" y2="60.5" stroke="#2a2a2a" stroke-width="0.7"/>
<line x1="299.2" y1="68.5" x2="301.8" y2="68.5" stroke="#2a2a2a" stroke-width="0.7"/>
<line x1="311.5" y1="50.5" x2="311.5" y2="56.5" stroke="#2a2a2a" stroke-width="0.7"/>
<line x1="310.2" y1="50.5" x2="312.8" y2="50.5" stroke="#2a2a2a" stroke-width="0.7"/>
<line x1="310.2" y1="56.5" x2="312.8" y2="56.5" stroke="#2a2a2a" stroke-width="0.7"/>
<line x1="278.5" y1="88.5" x2="278.5" y2="90.5" stroke="#2a2a2a" stroke-width="0.7"/>
<line x1="277.2" y1="88.5" x2="279.8" y2="88.5" stroke="#2a2a2a" stroke-width="0.7"/>
<line x1="277.2" y1="90.5" x2="279.8" y2="90.5" stroke="#2a2a2a" stroke-width="0.7"/>
<line x1="289.5" y1="77.5" x2="289.5" y2="86.5" stroke="#2a2a2a" stroke-width="0.7"/>
<line x1="288.2" y1="77.5" x2="290.8" y2="77.5" stroke="#2a2a2a" stroke-width="0.7"/>
<line x1="288.2" y1="86.5" x2="290.8" y2="86.5" stroke="#2a2a2a" stroke-width="0.7"/>
<line x1="300.5" y1="58.5" x2="300.5" y2="62.5" stroke="#2a2a2a" stroke-width="0.7"/>
<line x1="299.2" y1="58.5" x2="301.8" y2="58.5" stroke="#2a2a2a" stroke-width="0.7"/>
<line x1="299.2" y1="62.5" x2="301.8" y2="62.5" stroke="#2a2a2a" stroke-width="0.7"/>
<line x1="311.5" y1="40.5" x2="311.5" y2="54.5" stroke="#2a2a2a" stroke-width="0.7"/>
<line x1="310.2" y1="40.5" x2="312.8" y2="40.5" stroke="#2a2a2a" stroke-width="0.7"/>
<line x1="310.2" y1="54.5" x2="312.8" y2="54.5" stroke="#2a2a2a" stroke-width="0.7"/>
<path d="M265.85 98.3L270.15 98.3L268 102.2Z" fill="#10200c"/>
<path d="M276.65 88.36L280.95 88.36L278.8 92.26Z" fill="#10200c"/>
<path d="M287.45 75.09L291.75 75.09L289.6 79Z" fill="#10200c"/>
<path d="M298.65 63.16L302.95 63.16L300.8 67.06Z" fill="#10200c"/>
<path d="M309.65 51.89L313.95 51.89L311.8 55.79Z" fill="#10200c"/>
<circle cx="268" cy="100" r="1.6" fill="#fff" stroke="#4a1612" stroke-width="0.85"/>
<circle cx="278.8" cy="89.39" r="1.6" fill="#fff" stroke="#4a1612" stroke-width="0.85"/>
<circle cx="289.6" cy="82.1" r="1.6" fill="#fff" stroke="#4a1612" stroke-width="0.85"/>
<circle cx="300.8" cy="60.22" r="1.6" fill="#fff" stroke="#4a1612" stroke-width="0.85"/>
<circle cx="311.8" cy="47.62" r="1.6" fill="#fff" stroke="#4a1612" stroke-width="0.85"/>
<circle cx="268" cy="100" r="1.9" fill="#050505"/>
<circle cx="278.8" cy="96.69" r="1.9" fill="#050505"/>
<circle cx="289.6" cy="90.06" r="1.9" fill="#050505"/>
<circle cx="300.8" cy="76.8" r="1.9" fill="#050505"/>
<circle cx="311.8" cy="68.84" r="1.9" fill="#050505"/>
<text x="181.9" y="111.72" font-size="7.6" font-weight="bold" stroke="#1a1a1a" stroke-width="0.35" text-anchor="middle" fill="#1a1a1a">GEM</text>
<text x="197.5" y="111.72" font-size="7.6" font-weight="bold" stroke="#1a1a1a" stroke-width="0.35" text-anchor="middle" fill="#1a1a1a">0</text>
<text x="208.9" y="111.72" font-size="7.6" font-weight="bold" stroke="#1a1a1a" stroke-width="0.35" text-anchor="middle" fill="#1a1a1a">3</text>
<text x="220" y="111.72" font-size="7.6" font-weight="bold" stroke="#1a1a1a" stroke-width="0.35" text-anchor="middle" fill="#1a1a1a">6</text>
<text x="231.3" y="111.72" font-size="7.6" font-weight="bold" stroke="#1a1a1a" stroke-width="0.35" text-anchor="middle" fill="#1a1a1a">12</text>
<text x="242.5" y="111.72" font-size="7.6" font-weight="bold" stroke="#1a1a1a" stroke-width="0.35" text-anchor="middle" fill="#1a1a1a">24</text>
<text x="268" y="111.72" font-size="7.6" font-weight="bold" stroke="#1a1a1a" stroke-width="0.35" text-anchor="middle" fill="#1a1a1a">0</text>
<text x="278.8" y="111.72" font-size="7.6" font-weight="bold" stroke="#1a1a1a" stroke-width="0.35" text-anchor="middle" fill="#1a1a1a">3</text>
<text x="289.6" y="111.72" font-size="7.6" font-weight="bold" stroke="#1a1a1a" stroke-width="0.35" text-anchor="middle" fill="#1a1a1a">6</text>
<text x="300.8" y="111.72" font-size="7.6" font-weight="bold" stroke="#1a1a1a" stroke-width="0.35" text-anchor="middle" fill="#1a1a1a">12</text>
<text x="311.8" y="111.72" font-size="7.6" font-weight="bold" stroke="#1a1a1a" stroke-width="0.35" text-anchor="middle" fill="#1a1a1a">24</text>
<text x="323.6" y="111.72" font-size="7.6" font-weight="bold" stroke="#1a1a1a" stroke-width="0.35" text-anchor="middle" fill="#1a1a1a">(h)</text>
<line x1="216.3" y1="4.3" x2="232.5" y2="4.3" stroke="#333" stroke-width="0.7"/>
<circle cx="224.4" cy="4.3" r="1.45" fill="#050505"/>
<text x="236.3" y="6.88" font-size="7.2" font-weight="bold" stroke="#1a1a1a" stroke-width="0.35" text-anchor="start" fill="#1a1a1a">Ctrl sh</text>
<line x1="216.3" y1="13.6" x2="232.5" y2="13.6" stroke="#e6a3a0" stroke-width="0.7"/>
<circle cx="224.4" cy="13.6" r="1.1" fill="#8a5a58" stroke="#5a1410" stroke-width="0.9"/>
<text x="236.3" y="16.18" font-size="7.2" font-weight="bold" stroke="#1a1a1a" stroke-width="0.35" text-anchor="start" fill="#1a1a1a">HSPA5 sh1</text>
<line x1="216.3" y1="23.4" x2="232.5" y2="23.4" stroke="#b4cca2" stroke-width="0.7"/>
<path d="M222.9 22.2L225.9 22.2L224.4 25Z" fill="#1c3a12"/>
<text x="236.3" y="25.98" font-size="7.2" font-weight="bold" stroke="#1a1a1a" stroke-width="0.35" text-anchor="start" fill="#1a1a1a">GPX4 sh</text>
<path d="M278.7 3.5H281.5V13.5H278.7" fill="none" stroke="#4a4a4a" stroke-width="0.9"/>
<path d="M282.9 2.5H285.5V22.5H282.9" fill="none" stroke="#4a4a4a" stroke-width="0.9"/>
<text x="289.5" y="14.32" font-size="5.6" font-family="DejaVu Sans, sans-serif" text-anchor="middle" fill="#0a0a0a" stroke="#0a0a0a" stroke-width="0.42">★</text>
<text x="344.5" y="11.63" font-size="13.5" font-weight="bold" stroke="#1a1a1a" stroke-width="0.35" text-anchor="start" fill="#1a1a1a">C</text>
<line x1="373.8" y1="101.5" x2="375.8" y2="101.5" stroke="#444" stroke-width="0.9"/>
<text x="371.5" y="104.11" font-size="7.3" stroke="#222" stroke-width="0.22" text-anchor="end" fill="#222">0</text>
<line x1="373.8" y1="91.5" x2="375.8" y2="91.5" stroke="#444" stroke-width="0.9"/>
<text x="371.5" y="94.11" font-size="7.3" stroke="#222" stroke-width="0.22" text-anchor="end" fill="#222">50</text>
<line x1="373.8" y1="82.5" x2="375.8" y2="82.5" stroke="#444" stroke-width="0.9"/>
<text x="371.5" y="85.11" font-size="7.3" stroke="#222" stroke-width="0.22" text-anchor="end" fill="#222">100</text>
<line x1="373.8" y1="73.5" x2="375.8" y2="73.5" stroke="#444" stroke-width="0.9"/>
<text x="371.5" y="76.11" font-size="7.3" stroke="#222" stroke-width="0.22" text-anchor="end" fill="#222">150</text>
<line x1="373.8" y1="63.5" x2="375.8" y2="63.5" stroke="#444" stroke-width="0.9"/>
<text x="371.5" y="66.11" font-size="7.3" stroke="#222" stroke-width="0.22" text-anchor="end" fill="#222">200</text>
<line x1="373.8" y1="54.5" x2="375.8" y2="54.5" stroke="#444" stroke-width="0.9"/>
<text x="371.5" y="57.11" font-size="7.3" stroke="#222" stroke-width="0.22" text-anchor="end" fill="#222">250</text>
<line x1="373.8" y1="44.5" x2="375.8" y2="44.5" stroke="#444" stroke-width="0.9"/>
<text x="371.5" y="47.11" font-size="7.3" stroke="#222" stroke-width="0.22" text-anchor="end" fill="#222">300</text>
<line x1="373.8" y1="35.5" x2="375.8" y2="35.5" stroke="#444" stroke-width="0.9"/>
<text x="371.5" y="38.11" font-size="7.3" stroke="#222" stroke-width="0.22" text-anchor="end" fill="#222">350</text>
<text transform="translate(352.3 68.9) rotate(-90)" x="0" y="2.72" font-size="7.6" font-weight="bold" stroke="#1a1a1a" stroke-width="0.35" text-anchor="middle" fill="#1a1a1a">MDA (%)</text>
<rect x="375.5" y="35.5" width="67" height="66" fill="none" stroke="#868686" stroke-width="1"/>
<line x1="375" y1="101.5" x2="443" y2="101.5" stroke="#3a3a3a" stroke-width="1"/>
<line x1="375.5" y1="35.5" x2="375.5" y2="101.5" stroke="#6a6a6a" stroke-width="1"/>
<line x1="387.5" y1="101.3" x2="387.5" y2="103.6" stroke="#444" stroke-width="0.9"/>
<line x1="398.5" y1="101.3" x2="398.5" y2="103.6" stroke="#444" stroke-width="0.9"/>
<line x1="409.5" y1="101.3" x2="409.5" y2="103.6" stroke="#444" stroke-width="0.9"/>
<line x1="420.5" y1="101.3" x2="420.5" y2="103.6" stroke="#444" stroke-width="0.9"/>
<line x1="431.5" y1="101.3" x2="431.5" y2="103.6" stroke="#444" stroke-width="0.9"/>
<text x="409.2" y="43.72" font-size="7.6" font-weight="bold" stroke="#1a1a1a" stroke-width="0.35" text-anchor="middle" fill="#1a1a1a">PANC1</text>
<polyline points="387,82.5 398,81.94 409,81.18 420,81.94 431,77.8" fill="none" stroke="#111" stroke-width="1"/>
<polyline points="387,82.5 398,80.06 409,74.98 420,68.4 431,55.24" fill="none" stroke="#bfa974" stroke-width="0.8"/>
<polyline points="387,82.5 398,79.68 409,75.92 420,74.04 431,48.66" fill="none" stroke="#d98f62" stroke-width="0.8"/>
<line x1="398.5" y1="80.5" x2="398.5" y2="83.5" stroke="#2a2a2a" stroke-width="0.7"/>
<line x1="397.2" y1="80.5" x2="399.8" y2="80.5" stroke="#2a2a2a" stroke-width="0.7"/>
<line x1="397.2" y1="83.5" x2="399.8" y2="83.5" stroke="#2a2a2a" stroke-width="0.7"/>
<line x1="409.5" y1="78.5" x2="409.5" y2="83.5" stroke="#2a2a2a" stroke-width="0.7"/>
<line x1="408.2" y1="78.5" x2="410.8" y2="78.5" stroke="#2a2a2a" stroke-width="0.7"/>
<line x1="408.2" y1="83.5" x2="410.8" y2="83.5" stroke="#2a2a2a" stroke-width="0.7"/>
<line x1="420.5" y1="77.5" x2="420.5" y2="86.5" stroke="#2a2a2a" stroke-width="0.7"/>
<line x1="419.2" y1="77.5" x2="421.8" y2="77.5" stroke="#2a2a2a" stroke-width="0.7"/>
<line x1="419.2" y1="86.5" x2="421.8" y2="86.5" stroke="#2a2a2a" stroke-width="0.7"/>
<line x1="431.5" y1="75.5" x2="431.5" y2="79.5" stroke="#2a2a2a" stroke-width="0.7"/>
<line x1="430.2" y1="75.5" x2="432.8" y2="75.5" stroke="#2a2a2a" stroke-width="0.7"/>
<line x1="430.2" y1="79.5" x2="432.8" y2="79.5" stroke="#2a2a2a" stroke-width="0.7"/>
<line x1="398.5" y1="78.5" x2="398.5" y2="81.5" stroke="#2a2a2a" stroke-width="0.7"/>
<line x1="397.2" y1="78.5" x2="399.8" y2="78.5" stroke="#2a2a2a" stroke-width="0.7"/>
<line x1="397.2" y1="81.5" x2="399.8" y2="81.5" stroke="#2a2a2a" stroke-width="0.7"/>
<line x1="409.5" y1="73.5" x2="409.5" y2="76.5" stroke="#2a2a2a" stroke-width="0.7"/>
<line x1="408.2" y1="73.5" x2="410.8" y2="73.5" stroke="#2a2a2a" stroke-width="0.7"/>
<line x1="408.2" y1="76.5" x2="410.8" y2="76.5" stroke="#2a2a2a" stroke-width="0.7"/>
<line x1="420.5" y1="64.5" x2="420.5" y2="72.5" stroke="#2a2a2a" stroke-width="0.7"/>
<line x1="419.2" y1="64.5" x2="421.8" y2="64.5" stroke="#2a2a2a" stroke-width="0.7"/>
<line x1="419.2" y1="72.5" x2="421.8" y2="72.5" stroke="#2a2a2a" stroke-width="0.7"/>
<line x1="431.5" y1="50.5" x2="431.5" y2="59.5" stroke="#2a2a2a" stroke-width="0.7"/>
<line x1="430.2" y1="50.5" x2="432.8" y2="50.5" stroke="#2a2a2a" stroke-width="0.7"/>
<line x1="430.2" y1="59.5" x2="432.8" y2="59.5" stroke="#2a2a2a" stroke-width="0.7"/>
<line x1="398.5" y1="78.5" x2="398.5" y2="81.5" stroke="#2a2a2a" stroke-width="0.7"/>
<line x1="397.2" y1="78.5" x2="399.8" y2="78.5" stroke="#2a2a2a" stroke-width="0.7"/>
<line x1="397.2" y1="81.5" x2="399.8" y2="81.5" stroke="#2a2a2a" stroke-width="0.7"/>
<line x1="409.5" y1="72.5" x2="409.5" y2="79.5" stroke="#2a2a2a" stroke-width="0.7"/>
<line x1="408.2" y1="72.5" x2="410.8" y2="72.5" stroke="#2a2a2a" stroke-width="0.7"/>
<line x1="408.2" y1="79.5" x2="410.8" y2="79.5" stroke="#2a2a2a" stroke-width="0.7"/>
<line x1="420.5" y1="68.5" x2="420.5" y2="79.5" stroke="#2a2a2a" stroke-width="0.7"/>
<line x1="419.2" y1="68.5" x2="421.8" y2="68.5" stroke="#2a2a2a" stroke-width="0.7"/>
<line x1="419.2" y1="79.5" x2="421.8" y2="79.5" stroke="#2a2a2a" stroke-width="0.7"/>
<line x1="431.5" y1="46.5" x2="431.5" y2="50.5" stroke="#2a2a2a" stroke-width="0.7"/>
<line x1="430.2" y1="46.5" x2="432.8" y2="46.5" stroke="#2a2a2a" stroke-width="0.7"/>
<line x1="430.2" y1="50.5" x2="432.8" y2="50.5" stroke="#2a2a2a" stroke-width="0.7"/>
<circle cx="387" cy="82.5" r="1.6" fill="#fff" stroke="#4a1612" stroke-width="0.85"/>
<circle cx="398" cy="79.68" r="1.6" fill="#fff" stroke="#4a1612" stroke-width="0.85"/>
<circle cx="409" cy="75.92" r="1.6" fill="#fff" stroke="#4a1612" stroke-width="0.85"/>
<circle cx="420" cy="74.04" r="1.6" fill="#fff" stroke="#4a1612" stroke-width="0.85"/>
<circle cx="431" cy="48.66" r="1.6" fill="#fff" stroke="#4a1612" stroke-width="0.85"/>
<path d="M384.85 80.8L389.15 80.8L387 84.7Z" fill="#10200c"/>
<path d="M395.85 78.36L400.15 78.36L398 82.26Z" fill="#10200c"/>
<path d="M406.85 73.28L411.15 73.28L409 77.18Z" fill="#10200c"/>
<path d="M417.85 66.7L422.15 66.7L420 70.6Z" fill="#10200c"/>
<path d="M428.85 53.54L433.15 53.54L431 57.44Z" fill="#10200c"/>
<circle cx="387" cy="82.5" r="1.9" fill="#050505"/>
<circle cx="398" cy="81.94" r="1.9" fill="#050505"/>
<circle cx="409" cy="81.18" r="1.9" fill="#050505"/>
<circle cx="420" cy="81.94" r="1.9" fill="#050505"/>
<circle cx="431" cy="77.8" r="1.9" fill="#050505"/>
<rect x="445.5" y="35.5" width="67" height="66" fill="none" stroke="#868686" stroke-width="1"/>
<line x1="445" y1="101.5" x2="513" y2="101.5" stroke="#3a3a3a" stroke-width="1"/>
<line x1="445.5" y1="35.5" x2="445.5" y2="101.5" stroke="#6a6a6a" stroke-width="1"/>
<line x1="456.5" y1="101.3" x2="456.5" y2="103.6" stroke="#444" stroke-width="0.9"/>
<line x1="467.5" y1="101.3" x2="467.5" y2="103.6" stroke="#444" stroke-width="0.9"/>
<line x1="478.5" y1="101.3" x2="478.5" y2="103.6" stroke="#444" stroke-width="0.9"/>
<line x1="489.5" y1="101.3" x2="489.5" y2="103.6" stroke="#444" stroke-width="0.9"/>
<line x1="500.5" y1="101.3" x2="500.5" y2="103.6" stroke="#444" stroke-width="0.9"/>
<text x="477.7" y="43.72" font-size="7.6" font-weight="bold" stroke="#1a1a1a" stroke-width="0.35" text-anchor="middle" fill="#1a1a1a">CFPAC1</text>
<polyline points="456.6,82.5 467.8,81.94 478.7,80.62 489.8,80.06 500.6,76.86" fill="none" stroke="#111" stroke-width="1"/>
<polyline points="456.6,82.5 467.8,76.3 478.7,73.66 489.8,62.2 500.6,45.84" fill="none" stroke="#bfa974" stroke-width="0.8"/>
<polyline points="456.6,82.5 467.8,78.74 478.7,71.6 489.8,66.52 500.6,50.92" fill="none" stroke="#d98f62" stroke-width="0.8"/>
<line x1="467.5" y1="80.5" x2="467.5" y2="82.5" stroke="#2a2a2a" stroke-width="0.7"/>
<line x1="466.2" y1="80.5" x2="468.8" y2="80.5" stroke="#2a2a2a" stroke-width="0.7"/>
<line x1="466.2" y1="82.5" x2="468.8" y2="82.5" stroke="#2a2a2a" stroke-width="0.7"/>
<line x1="478.5" y1="76.5" x2="478.5" y2="84.5" stroke="#2a2a2a" stroke-width="0.7"/>
<line x1="477.2" y1="76.5" x2="479.8" y2="76.5" stroke="#2a2a2a" stroke-width="0.7"/>
<line x1="477.2" y1="84.5" x2="479.8" y2="84.5" stroke="#2a2a2a" stroke-width="0.7"/>
<line x1="489.5" y1="77.5" x2="489.5" y2="82.5" stroke="#2a2a2a" stroke-width="0.7"/>
<line x1="488.2" y1="77.5" x2="490.8" y2="77.5" stroke="#2a2a2a" stroke-width="0.7"/>
<line x1="488.2" y1="82.5" x2="490.8" y2="82.5" stroke="#2a2a2a" stroke-width="0.7"/>
<line x1="500.5" y1="72.5" x2="500.5" y2="81.5" stroke="#2a2a2a" stroke-width="0.7"/>
<line x1="499.2" y1="72.5" x2="501.8" y2="72.5" stroke="#2a2a2a" stroke-width="0.7"/>
<line x1="499.2" y1="81.5" x2="501.8" y2="81.5" stroke="#2a2a2a" stroke-width="0.7"/>
<line x1="467.5" y1="74.5" x2="467.5" y2="78.5" stroke="#2a2a2a" stroke-width="0.7"/>
<line x1="466.2" y1="74.5" x2="468.8" y2="74.5" stroke="#2a2a2a" stroke-width="0.7"/>
<line x1="466.2" y1="78.5" x2="468.8" y2="78.5" stroke="#2a2a2a" stroke-width="0.7"/>
<line x1="478.5" y1="72.5" x2="478.5" y2="75.5" stroke="#2a2a2a" stroke-width="0.7"/>
<line x1="477.2" y1="72.5" x2="479.8" y2="72.5" stroke="#2a2a2a" stroke-width="0.7"/>
<line x1="477.2" y1="75.5" x2="479.8" y2="75.5" stroke="#2a2a2a" stroke-width="0.7"/>
<line x1="489.5" y1="59.5" x2="489.5" y2="64.5" stroke="#2a2a2a" stroke-width="0.7"/>
<line x1="488.2" y1="59.5" x2="490.8" y2="59.5" stroke="#2a2a2a" stroke-width="0.7"/>
<line x1="488.2" y1="64.5" x2="490.8" y2="64.5" stroke="#2a2a2a" stroke-width="0.7"/>
<line x1="500.5" y1="39.5" x2="500.5" y2="52.5" stroke="#2a2a2a" stroke-width="0.7"/>
<line x1="499.2" y1="39.5" x2="501.8" y2="39.5" stroke="#2a2a2a" stroke-width="0.7"/>
<line x1="499.2" y1="52.5" x2="501.8" y2="52.5" stroke="#2a2a2a" stroke-width="0.7"/>
<line x1="467.5" y1="76.5" x2="467.5" y2="80.5" stroke="#2a2a2a" stroke-width="0.7"/>
<line x1="466.2" y1="76.5" x2="468.8" y2="76.5" stroke="#2a2a2a" stroke-width="0.7"/>
<line x1="466.2" y1="80.5" x2="468.8" y2="80.5" stroke="#2a2a2a" stroke-width="0.7"/>
<line x1="478.5" y1="70.5" x2="478.5" y2="73.5" stroke="#2a2a2a" stroke-width="0.7"/>
<line x1="477.2" y1="70.5" x2="479.8" y2="70.5" stroke="#2a2a2a" stroke-width="0.7"/>
<line x1="477.2" y1="73.5" x2="479.8" y2="73.5" stroke="#2a2a2a" stroke-width="0.7"/>
<line x1="489.5" y1="64.5" x2="489.5" y2="68.5" stroke="#2a2a2a" stroke-width="0.7"/>
<line x1="488.2" y1="64.5" x2="490.8" y2="64.5" stroke="#2a2a2a" stroke-width="0.7"/>
<line x1="488.2" y1="68.5" x2="490.8" y2="68.5" stroke="#2a2a2a" stroke-width="0.7"/>
<line x1="500.5" y1="48.5" x2="500.5" y2="53.5" stroke="#2a2a2a" stroke-width="0.7"/>
<line x1="499.2" y1="48.5" x2="501.8" y2="48.5" stroke="#2a2a2a" stroke-width="0.7"/>
<line x1="499.2" y1="53.5" x2="501.8" y2="53.5" stroke="#2a2a2a" stroke-width="0.7"/>
<circle cx="456.6" cy="82.5" r="1.6" fill="#fff" stroke="#4a1612" stroke-width="0.85"/>
<circle cx="467.8" cy="78.74" r="1.6" fill="#fff" stroke="#4a1612" stroke-width="0.85"/>
<circle cx="478.7" cy="71.6" r="1.6" fill="#fff" stroke="#4a1612" stroke-width="0.85"/>
<circle cx="489.8" cy="66.52" r="1.6" fill="#fff" stroke="#4a1612" stroke-width="0.85"/>
<circle cx="500.6" cy="50.92" r="1.6" fill="#fff" stroke="#4a1612" stroke-width="0.85"/>
<path d="M454.45 80.8L458.75 80.8L456.6 84.7Z" fill="#10200c"/>
<path d="M465.65 74.6L469.95 74.6L467.8 78.5Z" fill="#10200c"/>
<path d="M476.55 71.96L480.85 71.96L478.7 75.86Z" fill="#10200c"/>
<path d="M487.65 60.5L491.95 60.5L489.8 64.4Z" fill="#10200c"/>
<path d="M498.45 44.14L502.75 44.14L500.6 48.04Z" fill="#10200c"/>
<circle cx="456.6" cy="82.5" r="1.9" fill="#050505"/>
<circle cx="467.8" cy="81.94" r="1.9" fill="#050505"/>
<circle cx="478.7" cy="80.62" r="1.9" fill="#050505"/>
<circle cx="489.8" cy="80.06" r="1.9" fill="#050505"/>
<circle cx="500.6" cy="76.86" r="1.9" fill="#050505"/>
<text x="372.8" y="111.92" font-size="7.6" font-weight="bold" stroke="#1a1a1a" stroke-width="0.35" text-anchor="middle" fill="#1a1a1a">GEM</text>
<text x="387" y="111.92" font-size="7.6" font-weight="bold" stroke="#1a1a1a" stroke-width="0.35" text-anchor="middle" fill="#1a1a1a">0</text>
<text x="398" y="111.92" font-size="7.6" font-weight="bold" stroke="#1a1a1a" stroke-width="0.35" text-anchor="middle" fill="#1a1a1a">3</text>
<text x="409" y="111.92" font-size="7.6" font-weight="bold" stroke="#1a1a1a" stroke-width="0.35" text-anchor="middle" fill="#1a1a1a">6</text>
<text x="420" y="111.92" font-size="7.6" font-weight="bold" stroke="#1a1a1a" stroke-width="0.35" text-anchor="middle" fill="#1a1a1a">12</text>
<text x="431" y="111.92" font-size="7.6" font-weight="bold" stroke="#1a1a1a" stroke-width="0.35" text-anchor="middle" fill="#1a1a1a">24</text>
<text x="456.6" y="111.92" font-size="7.6" font-weight="bold" stroke="#1a1a1a" stroke-width="0.35" text-anchor="middle" fill="#1a1a1a">0</text>
<text x="467.8" y="111.92" font-size="7.6" font-weight="bold" stroke="#1a1a1a" stroke-width="0.35" text-anchor="middle" fill="#1a1a1a">3</text>
<text x="478.7" y="111.92" font-size="7.6" font-weight="bold" stroke="#1a1a1a" stroke-width="0.35" text-anchor="middle" fill="#1a1a1a">6</text>
<text x="489.8" y="111.92" font-size="7.6" font-weight="bold" stroke="#1a1a1a" stroke-width="0.35" text-anchor="middle" fill="#1a1a1a">12</text>
<text x="500.6" y="111.92" font-size="7.6" font-weight="bold" stroke="#1a1a1a" stroke-width="0.35" text-anchor="middle" fill="#1a1a1a">24</text>
<text x="512.6" y="112.12" font-size="7.6" font-weight="bold" stroke="#1a1a1a" stroke-width="0.35" text-anchor="middle" fill="#1a1a1a">(h)</text>
<line x1="402.5" y1="4.3" x2="418.8" y2="4.3" stroke="#333" stroke-width="0.7"/>
<circle cx="410.65" cy="4.3" r="1.45" fill="#050505"/>
<text x="423" y="6.88" font-size="7.2" font-weight="bold" stroke="#1a1a1a" stroke-width="0.35" text-anchor="start" fill="#1a1a1a">Ctrl sh</text>
<line x1="402.5" y1="13.5" x2="418.8" y2="13.5" stroke="#e6a3a0" stroke-width="0.7"/>
<circle cx="410.65" cy="13.5" r="1.1" fill="#8a5a58" stroke="#5a1410" stroke-width="0.9"/>
<text x="423" y="16.08" font-size="7.2" font-weight="bold" stroke="#1a1a1a" stroke-width="0.35" text-anchor="start" fill="#1a1a1a">HSPA5 sh1</text>
<line x1="402.5" y1="23.4" x2="418.8" y2="23.4" stroke="#b4cca2" stroke-width="0.7"/>
<path d="M409.15 22.2L412.15 22.2L410.65 25Z" fill="#1c3a12"/>
<text x="423" y="25.98" font-size="7.2" font-weight="bold" stroke="#1a1a1a" stroke-width="0.35" text-anchor="start" fill="#1a1a1a">GPX4 sh</text>
<path d="M465.2 3.5H467.5V14.5H465.2" fill="none" stroke="#4a4a4a" stroke-width="0.9"/>
<path d="M469.1 2.5H471.5V22.5H469.1" fill="none" stroke="#4a4a4a" stroke-width="0.9"/>
<text x="476" y="14.32" font-size="5.6" font-family="DejaVu Sans, sans-serif" text-anchor="middle" fill="#0a0a0a" stroke="#0a0a0a" stroke-width="0.42">★</text>
<text x="156.2" y="141.03" font-size="13.5" font-weight="bold" stroke="#1a1a1a" stroke-width="0.35" text-anchor="start" fill="#1a1a1a">D</text>
<rect x="207.47" y="202.27" width="3.75" height="24.53" fill="#050505"/>
<rect x="211.22" y="179.06" width="3.75" height="47.74" fill="#e3342a"/>
<line x1="213.5" y1="177.5" x2="213.5" y2="179.06" stroke="#e3342a" stroke-width="0.9"/>
<line x1="212.5" y1="177.5" x2="214.5" y2="177.5" stroke="#e3342a" stroke-width="0.9"/>
<rect x="214.97" y="169.12" width="3.75" height="57.68" fill="#82c24a"/>
<line x1="216.5" y1="167.5" x2="216.5" y2="169.12" stroke="#82c24a" stroke-width="0.9"/>
<line x1="215.5" y1="167.5" x2="217.5" y2="167.5" stroke="#82c24a" stroke-width="0.9"/>
<rect x="221.68" y="207.57" width="3.75" height="19.23" fill="#050505"/>
<line x1="223.5" y1="205.5" x2="223.5" y2="207.57" stroke="#222" stroke-width="0.9"/>
<line x1="222.5" y1="205.5" x2="224.5" y2="205.5" stroke="#222" stroke-width="0.9"/>
<rect x="225.43" y="209.56" width="3.75" height="17.24" fill="#e3342a"/>
<line x1="227.5" y1="208.5" x2="227.5" y2="209.56" stroke="#e3342a" stroke-width="0.9"/>
<line x1="226.5" y1="208.5" x2="228.5" y2="208.5" stroke="#e3342a" stroke-width="0.9"/>
<rect x="229.18" y="212.88" width="3.75" height="13.92" fill="#82c24a"/>
<line x1="231.5" y1="210.5" x2="231.5" y2="212.88" stroke="#82c24a" stroke-width="0.9"/>
<line x1="230.5" y1="210.5" x2="232.5" y2="210.5" stroke="#82c24a" stroke-width="0.9"/>
<rect x="235.88" y="205.58" width="3.75" height="21.22" fill="#050505"/>
<line x1="237.5" y1="203.5" x2="237.5" y2="205.58" stroke="#222" stroke-width="0.9"/>
<line x1="236.5" y1="203.5" x2="238.5" y2="203.5" stroke="#222" stroke-width="0.9"/>
<rect x="239.62" y="212.21" width="3.75" height="14.59" fill="#e3342a"/>
<line x1="241.5" y1="208.5" x2="241.5" y2="212.21" stroke="#e3342a" stroke-width="0.9"/>
<line x1="240.5" y1="208.5" x2="242.5" y2="208.5" stroke="#e3342a" stroke-width="0.9"/>
<rect x="243.38" y="215.53" width="3.75" height="11.27" fill="#82c24a"/>
<line x1="245.5" y1="211.5" x2="245.5" y2="215.53" stroke="#82c24a" stroke-width="0.9"/>
<line x1="244.5" y1="211.5" x2="246.5" y2="211.5" stroke="#82c24a" stroke-width="0.9"/>
<rect x="250.07" y="221.5" width="3.75" height="5.3" fill="#050505"/>
<line x1="251.5" y1="218.5" x2="251.5" y2="221.5" stroke="#222" stroke-width="0.9"/>
<line x1="250.5" y1="218.5" x2="252.5" y2="218.5" stroke="#222" stroke-width="0.9"/>
<rect x="253.82" y="187.02" width="3.75" height="39.78" fill="#e3342a"/>
<line x1="255.5" y1="183.5" x2="255.5" y2="187.02" stroke="#e3342a" stroke-width="0.9"/>
<line x1="254.5" y1="183.5" x2="256.5" y2="183.5" stroke="#e3342a" stroke-width="0.9"/>
<rect x="257.57" y="183.04" width="3.75" height="43.76" fill="#82c24a"/>
<line x1="259.5" y1="179.5" x2="259.5" y2="183.04" stroke="#82c24a" stroke-width="0.9"/>
<line x1="258.5" y1="179.5" x2="260.5" y2="179.5" stroke="#82c24a" stroke-width="0.9"/>
<rect x="264.27" y="202.27" width="3.75" height="24.53" fill="#050505"/>
<rect x="268.02" y="177.07" width="3.75" height="49.73" fill="#e3342a"/>
<line x1="269.5" y1="175.5" x2="269.5" y2="177.07" stroke="#e3342a" stroke-width="0.9"/>
<line x1="268.5" y1="175.5" x2="270.5" y2="175.5" stroke="#e3342a" stroke-width="0.9"/>
<rect x="271.77" y="170.44" width="3.75" height="56.36" fill="#82c24a"/>
<line x1="273.5" y1="167.5" x2="273.5" y2="170.44" stroke="#82c24a" stroke-width="0.9"/>
<line x1="272.5" y1="167.5" x2="274.5" y2="167.5" stroke="#82c24a" stroke-width="0.9"/>
<text x="227.3" y="205.5" font-size="5.3" font-family="DejaVu Sans, sans-serif" text-anchor="middle" fill="#0a0a0a" stroke="#0a0a0a" stroke-width="0.42">★</text>
<text x="231.3" y="208.16" font-size="5.3" font-family="DejaVu Sans, sans-serif" text-anchor="middle" fill="#0a0a0a" stroke="#0a0a0a" stroke-width="0.42">★</text>
<text x="241.5" y="204.84" font-size="5.3" font-family="DejaVu Sans, sans-serif" text-anchor="middle" fill="#0a0a0a" stroke="#0a0a0a" stroke-width="0.42">★</text>
<text x="245.6" y="208.16" font-size="5.3" font-family="DejaVu Sans, sans-serif" text-anchor="middle" fill="#0a0a0a" stroke="#0a0a0a" stroke-width="0.42">★</text>
<rect x="184.5" y="160.5" width="99" height="66" fill="none" stroke="#868686" stroke-width="1"/>
<line x1="184" y1="226.5" x2="284" y2="226.5" stroke="#3a3a3a" stroke-width="1"/>
<line x1="184.5" y1="160.5" x2="184.5" y2="226.5" stroke="#6a6a6a" stroke-width="1"/>
<line x1="182.6" y1="226.5" x2="184.6" y2="226.5" stroke="#444" stroke-width="0.9"/>
<text x="180.3" y="229.11" font-size="7.3" stroke="#222" stroke-width="0.22" text-anchor="end" fill="#222">0</text>
<line x1="182.6" y1="213.5" x2="184.6" y2="213.5" stroke="#444" stroke-width="0.9"/>
<text x="180.3" y="216.11" font-size="7.3" stroke="#222" stroke-width="0.22" text-anchor="end" fill="#222">20</text>
<line x1="182.6" y1="200.5" x2="184.6" y2="200.5" stroke="#444" stroke-width="0.9"/>
<text x="180.3" y="203.11" font-size="7.3" stroke="#222" stroke-width="0.22" text-anchor="end" fill="#222">40</text>
<line x1="182.6" y1="187.5" x2="184.6" y2="187.5" stroke="#444" stroke-width="0.9"/>
<text x="180.3" y="190.11" font-size="7.3" stroke="#222" stroke-width="0.22" text-anchor="end" fill="#222">60</text>
<line x1="182.6" y1="173.5" x2="184.6" y2="173.5" stroke="#444" stroke-width="0.9"/>
<text x="180.3" y="176.11" font-size="7.3" stroke="#222" stroke-width="0.22" text-anchor="end" fill="#222">80</text>
<line x1="182.6" y1="160.5" x2="184.6" y2="160.5" stroke="#444" stroke-width="0.9"/>
<text x="180.3" y="163.11" font-size="7.3" stroke="#222" stroke-width="0.22" text-anchor="end" fill="#222">100</text>
<line x1="198.5" y1="226.8" x2="198.5" y2="229.1" stroke="#444" stroke-width="0.9"/>
<text x="199.4" y="238.11" font-size="7.3" stroke="#222" stroke-width="0.22" text-anchor="middle" fill="#222">1</text>
<line x1="213.5" y1="226.8" x2="213.5" y2="229.1" stroke="#444" stroke-width="0.9"/>
<text x="213.6" y="238.11" font-size="7.3" stroke="#222" stroke-width="0.22" text-anchor="middle" fill="#222">2</text>
<line x1="227.5" y1="226.8" x2="227.5" y2="229.1" stroke="#444" stroke-width="0.9"/>
<text x="227.8" y="238.11" font-size="7.3" stroke="#222" stroke-width="0.22" text-anchor="middle" fill="#222">3</text>
<line x1="241.5" y1="226.8" x2="241.5" y2="229.1" stroke="#444" stroke-width="0.9"/>
<text x="242" y="238.11" font-size="7.3" stroke="#222" stroke-width="0.22" text-anchor="middle" fill="#222">4</text>
<line x1="255.5" y1="226.8" x2="255.5" y2="229.1" stroke="#444" stroke-width="0.9"/>
<text x="256.2" y="238.11" font-size="7.3" stroke="#222" stroke-width="0.22" text-anchor="middle" fill="#222">5</text>
<line x1="269.5" y1="226.8" x2="269.5" y2="229.1" stroke="#444" stroke-width="0.9"/>
<text x="270.4" y="238.11" font-size="7.3" stroke="#222" stroke-width="0.22" text-anchor="middle" fill="#222">6</text>
<text x="235" y="169.52" font-size="7.6" font-weight="bold" stroke="#1a1a1a" stroke-width="0.35" text-anchor="middle" fill="#1a1a1a">PANC1</text>
<text transform="translate(162.3 189.5) rotate(-90)" x="0" y="2.72" font-size="7.6" font-weight="bold" stroke="#1a1a1a" stroke-width="0.35" text-anchor="middle" fill="#1a1a1a">Cell death (%)</text>
<rect x="212" y="131.6" width="5.2" height="5.2" fill="#050505"/>
<text x="220.3" y="136.8" font-size="7.25" font-weight="bold" stroke="#1a1a1a" stroke-width="0.35" text-anchor="start" fill="#1a1a1a">Ctrl sh</text>
<rect x="212" y="140.4" width="5.2" height="5.2" fill="#e3342a"/>
<text x="220.3" y="145.6" font-size="7.25" font-weight="bold" stroke="#1a1a1a" stroke-width="0.35" text-anchor="start" fill="#1a1a1a">HSPA5 sh1</text>
<rect x="212" y="149" width="5.2" height="5.2" fill="#82c24a"/>
<text x="220.3" y="154.2" font-size="7.25" font-weight="bold" stroke="#1a1a1a" stroke-width="0.35" text-anchor="start" fill="#1a1a1a">GPX4 sh</text>
<text x="290" y="172.72" font-size="7.6" font-weight="bold" stroke="#1a1a1a" stroke-width="0.35" text-anchor="start" fill="#1a1a1a">1: Untreated</text>
<text x="290" y="181.82" font-size="7.6" font-weight="bold" stroke="#1a1a1a" stroke-width="0.35" text-anchor="start" fill="#1a1a1a">2: GEM</text>
<text x="290" y="190.92" font-size="7.6" font-weight="bold" stroke="#1a1a1a" stroke-width="0.35" text-anchor="start" fill="#1a1a1a">3: GEM+ferrostatin-1</text>
<text x="290" y="200.02" font-size="7.6" font-weight="bold" stroke="#1a1a1a" stroke-width="0.35" text-anchor="start" fill="#1a1a1a">4: GEM+liproxstatin-1</text>
<text x="290" y="209.12" font-size="7.6" font-weight="bold" stroke="#1a1a1a" stroke-width="0.35" text-anchor="start" fill="#1a1a1a">5: GEM+ZVAD-FMK</text>
<text x="290" y="218.22" font-size="7.6" font-weight="bold" stroke="#1a1a1a" stroke-width="0.35" text-anchor="start" fill="#1a1a1a">6: GEM+necrosulfonamide</text>
<text x="390" y="138.83" font-size="13.5" font-weight="bold" stroke="#1a1a1a" stroke-width="0.35" text-anchor="start" fill="#1a1a1a">E</text>
<rect x="434" y="189.84" width="6.6" height="13.16" fill="#050505"/>
<line x1="437.5" y1="189.5" x2="437.5" y2="189.84" stroke="#222" stroke-width="0.9"/>
<line x1="436" y1="189.5" x2="439" y2="189.5" stroke="#222" stroke-width="0.9"/>
<rect x="444.3" y="167.47" width="6.6" height="35.53" fill="#050505"/>
<line x1="447.5" y1="163.5" x2="447.5" y2="167.47" stroke="#222" stroke-width="0.9"/>
<line x1="446" y1="163.5" x2="449" y2="163.5" stroke="#222" stroke-width="0.9"/>
<rect x="454.6" y="199.05" width="6.6" height="3.95" fill="#050505"/>
<line x1="457.5" y1="197.5" x2="457.5" y2="199.05" stroke="#222" stroke-width="0.9"/>
<line x1="456" y1="197.5" x2="459" y2="197.5" stroke="#222" stroke-width="0.9"/>
<rect x="464.9" y="202.34" width="6.6" height="0.66" fill="#050505"/>
<line x1="468.5" y1="199.5" x2="468.5" y2="202.34" stroke="#222" stroke-width="0.9"/>
<line x1="467" y1="199.5" x2="470" y2="199.5" stroke="#222" stroke-width="0.9"/>
<rect x="475.3" y="189.84" width="6.6" height="13.16" fill="#050505"/>
<line x1="478.5" y1="189.5" x2="478.5" y2="189.84" stroke="#222" stroke-width="0.9"/>
<line x1="477" y1="189.5" x2="480" y2="189.5" stroke="#222" stroke-width="0.9"/>
<rect x="485.6" y="160.89" width="6.6" height="42.11" fill="#050505"/>
<line x1="488.5" y1="158.5" x2="488.5" y2="160.89" stroke="#222" stroke-width="0.9"/>
<line x1="487" y1="158.5" x2="490" y2="158.5" stroke="#222" stroke-width="0.9"/>
<rect x="496" y="202.61" width="6.6" height="0.39" fill="#050505"/>
<rect x="506.3" y="202.61" width="6.6" height="0.39" fill="#050505"/>
<rect x="426.5" y="137.5" width="93" height="66" fill="none" stroke="#868686" stroke-width="1"/>
<line x1="426" y1="203.5" x2="520" y2="203.5" stroke="#3a3a3a" stroke-width="1"/>
<line x1="426.5" y1="137.5" x2="426.5" y2="203.5" stroke="#6a6a6a" stroke-width="1"/>
<line x1="473.5" y1="137.2" x2="473.5" y2="203" stroke="#555" stroke-width="0.9" stroke-dasharray="1 1"/>
<line x1="424.8" y1="203.5" x2="426.8" y2="203.5" stroke="#444" stroke-width="0.9"/>
<text x="422.5" y="206.11" font-size="7.3" stroke="#222" stroke-width="0.22" text-anchor="end" fill="#222">0</text>
<line x1="424.8" y1="189.5" x2="426.8" y2="189.5" stroke="#444" stroke-width="0.9"/>
<text x="422.5" y="192.11" font-size="7.3" stroke="#222" stroke-width="0.22" text-anchor="end" fill="#222">1</text>
<line x1="424.8" y1="176.5" x2="426.8" y2="176.5" stroke="#444" stroke-width="0.9"/>
<text x="422.5" y="179.11" font-size="7.3" stroke="#222" stroke-width="0.22" text-anchor="end" fill="#222">2</text>
<line x1="424.8" y1="163.5" x2="426.8" y2="163.5" stroke="#444" stroke-width="0.9"/>
<text x="422.5" y="166.11" font-size="7.3" stroke="#222" stroke-width="0.22" text-anchor="end" fill="#222">3</text>
<line x1="424.8" y1="150.5" x2="426.8" y2="150.5" stroke="#444" stroke-width="0.9"/>
<text x="422.5" y="153.11" font-size="7.3" stroke="#222" stroke-width="0.22" text-anchor="end" fill="#222">4</text>
<line x1="424.8" y1="137.5" x2="426.8" y2="137.5" stroke="#444" stroke-width="0.9"/>
<text x="422.5" y="140.11" font-size="7.3" stroke="#222" stroke-width="0.22" text-anchor="end" fill="#222">5</text>
<line x1="437.5" y1="203" x2="437.5" y2="205.3" stroke="#444" stroke-width="0.9"/>
<line x1="447.5" y1="203" x2="447.5" y2="205.3" stroke="#444" stroke-width="0.9"/>
<line x1="457.5" y1="203" x2="457.5" y2="205.3" stroke="#444" stroke-width="0.9"/>
<line x1="468.5" y1="203" x2="468.5" y2="205.3" stroke="#444" stroke-width="0.9"/>
<line x1="478.5" y1="203" x2="478.5" y2="205.3" stroke="#444" stroke-width="0.9"/>
<line x1="488.5" y1="203" x2="488.5" y2="205.3" stroke="#444" stroke-width="0.9"/>
<line x1="499.5" y1="203" x2="499.5" y2="205.3" stroke="#444" stroke-width="0.9"/>
<line x1="509.5" y1="203" x2="509.5" y2="205.3" stroke="#444" stroke-width="0.9"/>
<rect x="434" y="257.9" width="6.6" height="19.8" fill="#050505"/>
<line x1="437.5" y1="255.5" x2="437.5" y2="257.9" stroke="#222" stroke-width="0.9"/>
<line x1="436" y1="255.5" x2="439" y2="255.5" stroke="#222" stroke-width="0.9"/>
<rect x="444.3" y="235.62" width="6.6" height="42.07" fill="#050505"/>
<line x1="447.5" y1="228.5" x2="447.5" y2="235.62" stroke="#222" stroke-width="0.9"/>
<line x1="446" y1="228.5" x2="449" y2="228.5" stroke="#222" stroke-width="0.9"/>
<rect x="454.6" y="266.97" width="6.6" height="10.73" fill="#050505"/>
<line x1="457.5" y1="266.5" x2="457.5" y2="266.97" stroke="#222" stroke-width="0.9"/>
<line x1="456" y1="266.5" x2="459" y2="266.5" stroke="#222" stroke-width="0.9"/>
<rect x="464.9" y="274.4" width="6.6" height="3.3" fill="#050505"/>
<line x1="468.5" y1="272.5" x2="468.5" y2="274.4" stroke="#222" stroke-width="0.9"/>
<line x1="467" y1="272.5" x2="470" y2="272.5" stroke="#222" stroke-width="0.9"/>
<rect x="475.3" y="262.85" width="6.6" height="14.85" fill="#050505"/>
<line x1="478.5" y1="259.5" x2="478.5" y2="262.85" stroke="#222" stroke-width="0.9"/>
<line x1="477" y1="259.5" x2="480" y2="259.5" stroke="#222" stroke-width="0.9"/>
<rect x="485.6" y="242.22" width="6.6" height="35.47" fill="#050505"/>
<line x1="488.5" y1="238.5" x2="488.5" y2="242.22" stroke="#222" stroke-width="0.9"/>
<line x1="487" y1="238.5" x2="490" y2="238.5" stroke="#222" stroke-width="0.9"/>
<rect x="496" y="274.07" width="6.6" height="3.63" fill="#050505"/>
<line x1="499.5" y1="271.5" x2="499.5" y2="274.07" stroke="#222" stroke-width="0.9"/>
<line x1="498" y1="271.5" x2="501" y2="271.5" stroke="#222" stroke-width="0.9"/>
<rect x="506.3" y="276.05" width="6.6" height="1.65" fill="#050505"/>
<line x1="509.5" y1="273.5" x2="509.5" y2="276.05" stroke="#222" stroke-width="0.9"/>
<line x1="508" y1="273.5" x2="511" y2="273.5" stroke="#222" stroke-width="0.9"/>
<rect x="426.5" y="211.5" width="93" height="66" fill="none" stroke="#868686" stroke-width="1"/>
<line x1="426" y1="277.5" x2="520" y2="277.5" stroke="#3a3a3a" stroke-width="1"/>
<line x1="426.5" y1="211.5" x2="426.5" y2="277.5" stroke="#6a6a6a" stroke-width="1"/>
<line x1="473.5" y1="211.7" x2="473.5" y2="277.7" stroke="#555" stroke-width="0.9" stroke-dasharray="1 1"/>
<line x1="424.8" y1="277.5" x2="426.8" y2="277.5" stroke="#444" stroke-width="0.9"/>
<text x="422.5" y="280.11" font-size="7.3" stroke="#222" stroke-width="0.22" text-anchor="end" fill="#222">0</text>
<line x1="424.8" y1="261.5" x2="426.8" y2="261.5" stroke="#444" stroke-width="0.9"/>
<text x="422.5" y="264.11" font-size="7.3" stroke="#222" stroke-width="0.22" text-anchor="end" fill="#222">10</text>
<line x1="424.8" y1="244.5" x2="426.8" y2="244.5" stroke="#444" stroke-width="0.9"/>
<text x="422.5" y="247.11" font-size="7.3" stroke="#222" stroke-width="0.22" text-anchor="end" fill="#222">20</text>
<line x1="424.8" y1="228.5" x2="426.8" y2="228.5" stroke="#444" stroke-width="0.9"/>
<text x="422.5" y="231.11" font-size="7.3" stroke="#222" stroke-width="0.22" text-anchor="end" fill="#222">30</text>
<line x1="424.8" y1="211.5" x2="426.8" y2="211.5" stroke="#444" stroke-width="0.9"/>
<text x="422.5" y="214.11" font-size="7.3" stroke="#222" stroke-width="0.22" text-anchor="end" fill="#222">40</text>
<line x1="437.5" y1="277.7" x2="437.5" y2="280" stroke="#444" stroke-width="0.9"/>
<line x1="447.5" y1="277.7" x2="447.5" y2="280" stroke="#444" stroke-width="0.9"/>
<line x1="457.5" y1="277.7" x2="457.5" y2="280" stroke="#444" stroke-width="0.9"/>
<line x1="468.5" y1="277.7" x2="468.5" y2="280" stroke="#444" stroke-width="0.9"/>
<line x1="478.5" y1="277.7" x2="478.5" y2="280" stroke="#444" stroke-width="0.9"/>
<line x1="488.5" y1="277.7" x2="488.5" y2="280" stroke="#444" stroke-width="0.9"/>
<line x1="499.5" y1="277.7" x2="499.5" y2="280" stroke="#444" stroke-width="0.9"/>
<line x1="509.5" y1="277.7" x2="509.5" y2="280" stroke="#444" stroke-width="0.9"/>
<text x="452.5" y="143.72" font-size="7.6" font-weight="bold" stroke="#1a1a1a" stroke-width="0.35" text-anchor="middle" fill="#1a1a1a">PANC1</text>
<text x="493.8" y="143.72" font-size="7.6" font-weight="bold" stroke="#1a1a1a" stroke-width="0.35" text-anchor="middle" fill="#1a1a1a">CFPAC1</text>
<text transform="translate(408.8 168) rotate(-90)" x="0" y="2.72" font-size="7.6" font-weight="bold" stroke="#1a1a1a" stroke-width="0.35" text-anchor="middle" fill="#1a1a1a">GPX4 Protein</text>
<text transform="translate(399 244.5) rotate(-90)" x="0" y="2.72" font-size="7.6" font-weight="bold" stroke="#1a1a1a" stroke-width="0.35" text-anchor="middle" fill="#1a1a1a">GPX4 activity</text>
<text transform="translate(408.8 244.5) rotate(-90)" x="0" y="2.72" font-size="7.6" font-weight="bold" stroke="#1a1a1a" stroke-width="0.35" text-anchor="middle" fill="#1a1a1a">(U/mg total protein)</text>
<path d="M447.6 160.8V159.5H457.9V160.8" fill="none" stroke="#484848" stroke-width="0.85"/>
<path d="M447.6 157.8V156.5H468.2V157.8" fill="none" stroke="#484848" stroke-width="0.85"/>
<text x="457.5" y="154.28" font-size="5.5" font-family="DejaVu Sans, sans-serif" text-anchor="middle" fill="#0a0a0a" stroke="#0a0a0a" stroke-width="0.42">★</text>
<path d="M488.9 155.8V154.5H499.3V155.8" fill="none" stroke="#484848" stroke-width="0.85"/>
<path d="M488.9 152.6V151.5H509.6V152.6" fill="none" stroke="#484848" stroke-width="0.85"/>
<text x="499" y="149.48" font-size="5.5" font-family="DejaVu Sans, sans-serif" text-anchor="middle" fill="#0a0a0a" stroke="#0a0a0a" stroke-width="0.42">★</text>
<path d="M447.6 224.3V223.5H457.9V224.3" fill="none" stroke="#484848" stroke-width="0.85"/>
<path d="M447.6 220.8V219.5H468.2V220.8" fill="none" stroke="#484848" stroke-width="0.85"/>
<text x="458.5" y="217.58" font-size="5.5" font-family="DejaVu Sans, sans-serif" text-anchor="middle" fill="#0a0a0a" stroke="#0a0a0a" stroke-width="0.42">★</text>
<path d="M488.9 233.8V232.5H499.3V233.8" fill="none" stroke="#484848" stroke-width="0.85"/>
<path d="M488.9 230.3V229.5H509.6V230.3" fill="none" stroke="#484848" stroke-width="0.85"/>
<text x="499.5" y="226.78" font-size="5.5" font-family="DejaVu Sans, sans-serif" text-anchor="middle" fill="#0a0a0a" stroke="#0a0a0a" stroke-width="0.42">★</text>
<rect x="427" y="283.3" width="41.9" height="11.1" fill="#808080" stroke="#555" stroke-width="0.8"/>
<rect x="475.5" y="283.3" width="41.5" height="11.1" fill="#808080" stroke="#555" stroke-width="0.8"/>
<rect x="428.3" y="286.65" width="8" height="2.8" rx="1.4" fill="#0a0a0a" opacity="0.8" filter="url(#bl)"/>
<rect x="437.8" y="285.85" width="9.2" height="4.4" rx="1.6" fill="#0a0a0a" opacity="1" filter="url(#bl)"/>
<rect x="448.4" y="287.25" width="8" height="1.6" rx="0.8" fill="#0a0a0a" opacity="0.3" filter="url(#bl)"/>
<rect x="476.3" y="286.75" width="8" height="2.6" rx="1.3" fill="#0a0a0a" opacity="0.55" filter="url(#bl)"/>
<rect x="485.9" y="285.65" width="9.2" height="4.8" rx="1.6" fill="#0a0a0a" opacity="1" filter="url(#bl)"/>
<text x="423.5" y="292.54" font-size="7.8" font-weight="bold" stroke="#1a1a1a" stroke-width="0.35" text-anchor="end" fill="#1a1a1a">GPX4</text>
<rect x="427" y="297.2" width="41.9" height="10.3" fill="#808080" stroke="#555" stroke-width="0.8"/>
<rect x="475.5" y="297.2" width="41.5" height="10.3" fill="#808080" stroke="#555" stroke-width="0.8"/>
<rect x="428.3" y="301.35" width="8" height="2" rx="1" fill="#0a0a0a" opacity="0.9" filter="url(#bl)"/>
<rect x="438.4" y="301.35" width="8" height="2" rx="1" fill="#0a0a0a" opacity="0.9" filter="url(#bl)"/>
<rect x="448.4" y="301.25" width="8" height="2.2" rx="1.1" fill="#0a0a0a" opacity="0.95" filter="url(#bl)"/>
<rect x="459" y="301.35" width="8" height="2" rx="1" fill="#0a0a0a" opacity="0.9" filter="url(#bl)"/>
<rect x="476.3" y="301.3" width="8" height="2.1" rx="1.05" fill="#0a0a0a" opacity="0.9" filter="url(#bl)"/>
<rect x="486.5" y="301.35" width="8" height="2" rx="1" fill="#0a0a0a" opacity="0.9" filter="url(#bl)"/>
<rect x="496.8" y="301.45" width="8" height="1.8" rx="0.9" fill="#0a0a0a" opacity="0.8" filter="url(#bl)"/>
<rect x="507.1" y="301.45" width="8" height="1.8" rx="0.9" fill="#0a0a0a" opacity="0.8" filter="url(#bl)"/>
<text x="423.5" y="306.04" font-size="7.8" font-weight="bold" stroke="#1a1a1a" stroke-width="0.35" text-anchor="end" fill="#1a1a1a">ACTB</text>
<text x="424.8" y="317.72" font-size="7.6" font-weight="bold" stroke="#1a1a1a" stroke-width="0.35" text-anchor="end" fill="#1a1a1a">GEM</text>
<text x="433" y="316.96" font-size="8" font-weight="bold" stroke="#1a1a1a" stroke-width="0.35" text-anchor="middle" fill="#1a1a1a">-</text>
<text x="442.6" y="317.71" font-size="7" font-weight="bold" stroke="#1a1a1a" stroke-width="0.35" text-anchor="middle" fill="#1a1a1a">+</text>
<text x="452.3" y="317.71" font-size="7" font-weight="bold" stroke="#1a1a1a" stroke-width="0.35" text-anchor="middle" fill="#1a1a1a">+</text>
<text x="462.2" y="317.71" font-size="7" font-weight="bold" stroke="#1a1a1a" stroke-width="0.35" text-anchor="middle" fill="#1a1a1a">+</text>
<text x="480.2" y="316.96" font-size="8" font-weight="bold" stroke="#1a1a1a" stroke-width="0.35" text-anchor="middle" fill="#1a1a1a">-</text>
<text x="490.4" y="317.71" font-size="7" font-weight="bold" stroke="#1a1a1a" stroke-width="0.35" text-anchor="middle" fill="#1a1a1a">+</text>
<text x="500.7" y="317.71" font-size="7" font-weight="bold" stroke="#1a1a1a" stroke-width="0.35" text-anchor="middle" fill="#1a1a1a">+</text>
<text x="511.1" y="317.71" font-size="7" font-weight="bold" stroke="#1a1a1a" stroke-width="0.35" text-anchor="middle" fill="#1a1a1a">+</text>
<text x="424.8" y="328.42" font-size="7.6" font-weight="bold" stroke="#1a1a1a" stroke-width="0.35" text-anchor="end" fill="#1a1a1a">EGCG</text>
<text x="433" y="327.66" font-size="8" font-weight="bold" stroke="#1a1a1a" stroke-width="0.35" text-anchor="middle" fill="#1a1a1a">-</text>
<text x="442.6" y="327.66" font-size="8" font-weight="bold" stroke="#1a1a1a" stroke-width="0.35" text-anchor="middle" fill="#1a1a1a">-</text>
<text x="452.3" y="328.41" font-size="7" font-weight="bold" stroke="#1a1a1a" stroke-width="0.35" text-anchor="middle" fill="#1a1a1a">+</text>
<text x="462.2" y="327.66" font-size="8" font-weight="bold" stroke="#1a1a1a" stroke-width="0.35" text-anchor="middle" fill="#1a1a1a">-</text>
<text x="480.2" y="327.66" font-size="8" font-weight="bold" stroke="#1a1a1a" stroke-width="0.35" text-anchor="middle" fill="#1a1a1a">-</text>
<text x="490.4" y="327.66" font-size="8" font-weight="bold" stroke="#1a1a1a" stroke-width="0.35" text-anchor="middle" fill="#1a1a1a">-</text>
<text x="500.7" y="328.41" font-size="7" font-weight="bold" stroke="#1a1a1a" stroke-width="0.35" text-anchor="middle" fill="#1a1a1a">+</text>
<text x="511.1" y="327.66" font-size="8" font-weight="bold" stroke="#1a1a1a" stroke-width="0.35" text-anchor="middle" fill="#1a1a1a">-</text>
<text x="424.8" y="338.22" font-size="7.6" font-weight="bold" stroke="#1a1a1a" stroke-width="0.35" text-anchor="end" fill="#1a1a1a">SAS</text>
<text x="433" y="337.46" font-size="8" font-weight="bold" stroke="#1a1a1a" stroke-width="0.35" text-anchor="middle" fill="#1a1a1a">-</text>
<text x="442.6" y="337.46" font-size="8" font-weight="bold" stroke="#1a1a1a" stroke-width="0.35" text-anchor="middle" fill="#1a1a1a">-</text>
<text x="452.3" y="337.46" font-size="8" font-weight="bold" stroke="#1a1a1a" stroke-width="0.35" text-anchor="middle" fill="#1a1a1a">-</text>
<text x="462.2" y="338.21" font-size="7" font-weight="bold" stroke="#1a1a1a" stroke-width="0.35" text-anchor="middle" fill="#1a1a1a">+</text>
<text x="480.2" y="337.46" font-size="8" font-weight="bold" stroke="#1a1a1a" stroke-width="0.35" text-anchor="middle" fill="#1a1a1a">-</text>
<text x="490.4" y="337.46" font-size="8" font-weight="bold" stroke="#1a1a1a" stroke-width="0.35" text-anchor="middle" fill="#1a1a1a">-</text>
<text x="500.7" y="337.46" font-size="8" font-weight="bold" stroke="#1a1a1a" stroke-width="0.35" text-anchor="middle" fill="#1a1a1a">-</text>
<text x="511.1" y="338.21" font-size="7" font-weight="bold" stroke="#1a1a1a" stroke-width="0.35" text-anchor="middle" fill="#1a1a1a">+</text>
<text x="153.2" y="252.13" font-size="13.5" font-weight="bold" stroke="#1a1a1a" stroke-width="0.35" text-anchor="start" fill="#1a1a1a">F</text>
<line x1="174.8" y1="327.5" x2="176.8" y2="327.5" stroke="#444" stroke-width="0.9"/>
<text x="172.5" y="330.11" font-size="7.3" stroke="#222" stroke-width="0.22" text-anchor="end" fill="#222">0</text>
<line x1="174.8" y1="314.5" x2="176.8" y2="314.5" stroke="#444" stroke-width="0.9"/>
<text x="172.5" y="317.11" font-size="7.3" stroke="#222" stroke-width="0.22" text-anchor="end" fill="#222">20</text>
<line x1="174.8" y1="301.5" x2="176.8" y2="301.5" stroke="#444" stroke-width="0.9"/>
<text x="172.5" y="304.11" font-size="7.3" stroke="#222" stroke-width="0.22" text-anchor="end" fill="#222">40</text>
<line x1="174.8" y1="288.5" x2="176.8" y2="288.5" stroke="#444" stroke-width="0.9"/>
<text x="172.5" y="291.11" font-size="7.3" stroke="#222" stroke-width="0.22" text-anchor="end" fill="#222">60</text>
<line x1="174.8" y1="274.5" x2="176.8" y2="274.5" stroke="#444" stroke-width="0.9"/>
<text x="172.5" y="277.11" font-size="7.3" stroke="#222" stroke-width="0.22" text-anchor="end" fill="#222">80</text>
<line x1="174.8" y1="261.5" x2="176.8" y2="261.5" stroke="#444" stroke-width="0.9"/>
<text x="172.5" y="264.11" font-size="7.3" stroke="#222" stroke-width="0.22" text-anchor="end" fill="#222">100</text>
<text transform="translate(156 294.3) rotate(-90)" x="0" y="2.72" font-size="7.6" font-weight="bold" stroke="#1a1a1a" stroke-width="0.35" text-anchor="middle" fill="#1a1a1a">Cell death (%)</text>
<rect x="176.5" y="261.5" width="67" height="66" fill="none" stroke="#868686" stroke-width="1"/>
<line x1="176" y1="327.5" x2="244" y2="327.5" stroke="#3a3a3a" stroke-width="1"/>
<line x1="176.5" y1="261.5" x2="176.5" y2="327.5" stroke="#6a6a6a" stroke-width="1"/>
<line x1="188.5" y1="327.9" x2="188.5" y2="330.2" stroke="#444" stroke-width="0.9"/>
<line x1="199.5" y1="327.9" x2="199.5" y2="330.2" stroke="#444" stroke-width="0.9"/>
<line x1="210.5" y1="327.9" x2="210.5" y2="330.2" stroke="#444" stroke-width="0.9"/>
<line x1="221.5" y1="327.9" x2="221.5" y2="330.2" stroke="#444" stroke-width="0.9"/>
<line x1="232.5" y1="327.9" x2="232.5" y2="330.2" stroke="#444" stroke-width="0.9"/>
<text x="209" y="271.02" font-size="7.6" font-weight="bold" stroke="#1a1a1a" stroke-width="0.35" text-anchor="middle" fill="#1a1a1a">PANC1</text>
<polyline points="188,327.9 199,324.58 210,312.65 221,305.36 232,298.06" fill="none" stroke="#111" stroke-width="1"/>
<polyline points="188,327.9 199,321.27 210,310 221,293.42 232,280.16" fill="none" stroke="#cc6a62" stroke-width="0.8"/>
<polyline points="188,327.9 199,317.95 210,300.72 221,288.78 232,270.88" fill="none" stroke="#90bb79" stroke-width="0.8"/>
<line x1="199.5" y1="321.5" x2="199.5" y2="327.5" stroke="#2a2a2a" stroke-width="0.7"/>
<line x1="198.2" y1="321.5" x2="200.8" y2="321.5" stroke="#2a2a2a" stroke-width="0.7"/>
<line x1="198.2" y1="327.5" x2="200.8" y2="327.5" stroke="#2a2a2a" stroke-width="0.7"/>
<line x1="210.5" y1="310.5" x2="210.5" y2="314.5" stroke="#2a2a2a" stroke-width="0.7"/>
<line x1="209.2" y1="310.5" x2="211.8" y2="310.5" stroke="#2a2a2a" stroke-width="0.7"/>
<line x1="209.2" y1="314.5" x2="211.8" y2="314.5" stroke="#2a2a2a" stroke-width="0.7"/>
<line x1="221.5" y1="300.5" x2="221.5" y2="310.5" stroke="#2a2a2a" stroke-width="0.7"/>
<line x1="220.2" y1="300.5" x2="222.8" y2="300.5" stroke="#2a2a2a" stroke-width="0.7"/>
<line x1="220.2" y1="310.5" x2="222.8" y2="310.5" stroke="#2a2a2a" stroke-width="0.7"/>
<line x1="232.5" y1="290.5" x2="232.5" y2="306.5" stroke="#2a2a2a" stroke-width="0.7"/>
<line x1="231.2" y1="290.5" x2="233.8" y2="290.5" stroke="#2a2a2a" stroke-width="0.7"/>
<line x1="231.2" y1="306.5" x2="233.8" y2="306.5" stroke="#2a2a2a" stroke-width="0.7"/>
<line x1="199.5" y1="319.5" x2="199.5" y2="323.5" stroke="#2a2a2a" stroke-width="0.7"/>
<line x1="198.2" y1="319.5" x2="200.8" y2="319.5" stroke="#2a2a2a" stroke-width="0.7"/>
<line x1="198.2" y1="323.5" x2="200.8" y2="323.5" stroke="#2a2a2a" stroke-width="0.7"/>
<line x1="210.5" y1="307.5" x2="210.5" y2="312.5" stroke="#2a2a2a" stroke-width="0.7"/>
<line x1="209.2" y1="307.5" x2="211.8" y2="307.5" stroke="#2a2a2a" stroke-width="0.7"/>
<line x1="209.2" y1="312.5" x2="211.8" y2="312.5" stroke="#2a2a2a" stroke-width="0.7"/>
<line x1="221.5" y1="288.5" x2="221.5" y2="298.5" stroke="#2a2a2a" stroke-width="0.7"/>
<line x1="220.2" y1="288.5" x2="222.8" y2="288.5" stroke="#2a2a2a" stroke-width="0.7"/>
<line x1="220.2" y1="298.5" x2="222.8" y2="298.5" stroke="#2a2a2a" stroke-width="0.7"/>
<line x1="232.5" y1="275.5" x2="232.5" y2="284.5" stroke="#2a2a2a" stroke-width="0.7"/>
<line x1="231.2" y1="275.5" x2="233.8" y2="275.5" stroke="#2a2a2a" stroke-width="0.7"/>
<line x1="231.2" y1="284.5" x2="233.8" y2="284.5" stroke="#2a2a2a" stroke-width="0.7"/>
<line x1="199.5" y1="315.5" x2="199.5" y2="319.5" stroke="#2a2a2a" stroke-width="0.7"/>
<line x1="198.2" y1="315.5" x2="200.8" y2="315.5" stroke="#2a2a2a" stroke-width="0.7"/>
<line x1="198.2" y1="319.5" x2="200.8" y2="319.5" stroke="#2a2a2a" stroke-width="0.7"/>
<line x1="210.5" y1="295.5" x2="210.5" y2="306.5" stroke="#2a2a2a" stroke-width="0.7"/>
<line x1="209.2" y1="295.5" x2="211.8" y2="295.5" stroke="#2a2a2a" stroke-width="0.7"/>
<line x1="209.2" y1="306.5" x2="211.8" y2="306.5" stroke="#2a2a2a" stroke-width="0.7"/>
<line x1="221.5" y1="280.5" x2="221.5" y2="296.5" stroke="#2a2a2a" stroke-width="0.7"/>
<line x1="220.2" y1="280.5" x2="222.8" y2="280.5" stroke="#2a2a2a" stroke-width="0.7"/>
<line x1="220.2" y1="296.5" x2="222.8" y2="296.5" stroke="#2a2a2a" stroke-width="0.7"/>
<line x1="232.5" y1="266.5" x2="232.5" y2="274.5" stroke="#2a2a2a" stroke-width="0.7"/>
<line x1="231.2" y1="266.5" x2="233.8" y2="266.5" stroke="#2a2a2a" stroke-width="0.7"/>
<line x1="231.2" y1="274.5" x2="233.8" y2="274.5" stroke="#2a2a2a" stroke-width="0.7"/>
<path d="M185.85 326.2L190.15 326.2L188 330.1Z" fill="#10200c"/>
<path d="M196.85 316.25L201.15 316.25L199 320.15Z" fill="#10200c"/>
<path d="M207.85 299.02L212.15 299.02L210 302.92Z" fill="#10200c"/>
<path d="M218.85 287.08L223.15 287.08L221 290.98Z" fill="#10200c"/>
<path d="M229.85 269.18L234.15 269.18L232 273.08Z" fill="#10200c"/>
<circle cx="188" cy="327.9" r="1.6" fill="#fff" stroke="#4a1612" stroke-width="0.85"/>
<circle cx="199" cy="321.27" r="1.6" fill="#fff" stroke="#4a1612" stroke-width="0.85"/>
<circle cx="210" cy="310" r="1.6" fill="#fff" stroke="#4a1612" stroke-width="0.85"/>
<circle cx="221" cy="293.42" r="1.6" fill="#fff" stroke="#4a1612" stroke-width="0.85"/>
<circle cx="232" cy="280.16" r="1.6" fill="#fff" stroke="#4a1612" stroke-width="0.85"/>
<circle cx="188" cy="327.9" r="1.9" fill="#050505"/>
<circle cx="199" cy="324.58" r="1.9" fill="#050505"/>
<circle cx="210" cy="312.65" r="1.9" fill="#050505"/>
<circle cx="221" cy="305.36" r="1.9" fill="#050505"/>
<circle cx="232" cy="298.06" r="1.9" fill="#050505"/>
<rect x="246.5" y="261.5" width="66" height="66" fill="none" stroke="#868686" stroke-width="1"/>
<line x1="246" y1="327.5" x2="313" y2="327.5" stroke="#3a3a3a" stroke-width="1"/>
<line x1="246.5" y1="261.5" x2="246.5" y2="327.5" stroke="#6a6a6a" stroke-width="1"/>
<line x1="257.5" y1="327.9" x2="257.5" y2="330.2" stroke="#444" stroke-width="0.9"/>
<line x1="268.5" y1="327.9" x2="268.5" y2="330.2" stroke="#444" stroke-width="0.9"/>
<line x1="279.5" y1="327.9" x2="279.5" y2="330.2" stroke="#444" stroke-width="0.9"/>
<line x1="290.5" y1="327.9" x2="290.5" y2="330.2" stroke="#444" stroke-width="0.9"/>
<line x1="301.5" y1="327.9" x2="301.5" y2="330.2" stroke="#444" stroke-width="0.9"/>
<text x="278" y="271.02" font-size="7.6" font-weight="bold" stroke="#1a1a1a" stroke-width="0.35" text-anchor="middle" fill="#1a1a1a">CFPAC1</text>
<polyline points="257,327.9 268,324.58 279,313.98 290.2,305.36 301.3,300.05" fill="none" stroke="#111" stroke-width="1"/>
<polyline points="257,327.9 268,320.61 279,304.69 290.2,292.1 301.3,280.16" fill="none" stroke="#cc6a62" stroke-width="0.8"/>
<polyline points="257,327.9 268,315.3 279,298.06 290.2,283.48 301.3,270.88" fill="none" stroke="#90bb79" stroke-width="0.8"/>
<line x1="268.5" y1="321.5" x2="268.5" y2="327.5" stroke="#2a2a2a" stroke-width="0.7"/>
<line x1="267.2" y1="321.5" x2="269.8" y2="321.5" stroke="#2a2a2a" stroke-width="0.7"/>
<line x1="267.2" y1="327.5" x2="269.8" y2="327.5" stroke="#2a2a2a" stroke-width="0.7"/>
<line x1="279.5" y1="309.5" x2="279.5" y2="318.5" stroke="#2a2a2a" stroke-width="0.7"/>
<line x1="278.2" y1="309.5" x2="280.8" y2="309.5" stroke="#2a2a2a" stroke-width="0.7"/>
<line x1="278.2" y1="318.5" x2="280.8" y2="318.5" stroke="#2a2a2a" stroke-width="0.7"/>
<line x1="290.5" y1="300.5" x2="290.5" y2="309.5" stroke="#2a2a2a" stroke-width="0.7"/>
<line x1="289.2" y1="300.5" x2="291.8" y2="300.5" stroke="#2a2a2a" stroke-width="0.7"/>
<line x1="289.2" y1="309.5" x2="291.8" y2="309.5" stroke="#2a2a2a" stroke-width="0.7"/>
<line x1="301.5" y1="297.5" x2="301.5" y2="302.5" stroke="#2a2a2a" stroke-width="0.7"/>
<line x1="300.2" y1="297.5" x2="302.8" y2="297.5" stroke="#2a2a2a" stroke-width="0.7"/>
<line x1="300.2" y1="302.5" x2="302.8" y2="302.5" stroke="#2a2a2a" stroke-width="0.7"/>
<line x1="268.5" y1="318.5" x2="268.5" y2="322.5" stroke="#2a2a2a" stroke-width="0.7"/>
<line x1="267.2" y1="318.5" x2="269.8" y2="318.5" stroke="#2a2a2a" stroke-width="0.7"/>
<line x1="267.2" y1="322.5" x2="269.8" y2="322.5" stroke="#2a2a2a" stroke-width="0.7"/>
<line x1="279.5" y1="302.5" x2="279.5" y2="306.5" stroke="#2a2a2a" stroke-width="0.7"/>
<line x1="278.2" y1="302.5" x2="280.8" y2="302.5" stroke="#2a2a2a" stroke-width="0.7"/>
<line x1="278.2" y1="306.5" x2="280.8" y2="306.5" stroke="#2a2a2a" stroke-width="0.7"/>
<line x1="290.5" y1="286.5" x2="290.5" y2="297.5" stroke="#2a2a2a" stroke-width="0.7"/>
<line x1="289.2" y1="286.5" x2="291.8" y2="286.5" stroke="#2a2a2a" stroke-width="0.7"/>
<line x1="289.2" y1="297.5" x2="291.8" y2="297.5" stroke="#2a2a2a" stroke-width="0.7"/>
<line x1="301.5" y1="277.5" x2="301.5" y2="282.5" stroke="#2a2a2a" stroke-width="0.7"/>
<line x1="300.2" y1="277.5" x2="302.8" y2="277.5" stroke="#2a2a2a" stroke-width="0.7"/>
<line x1="300.2" y1="282.5" x2="302.8" y2="282.5" stroke="#2a2a2a" stroke-width="0.7"/>
<line x1="268.5" y1="313.5" x2="268.5" y2="317.5" stroke="#2a2a2a" stroke-width="0.7"/>
<line x1="267.2" y1="313.5" x2="269.8" y2="313.5" stroke="#2a2a2a" stroke-width="0.7"/>
<line x1="267.2" y1="317.5" x2="269.8" y2="317.5" stroke="#2a2a2a" stroke-width="0.7"/>
<line x1="279.5" y1="294.5" x2="279.5" y2="301.5" stroke="#2a2a2a" stroke-width="0.7"/>
<line x1="278.2" y1="294.5" x2="280.8" y2="294.5" stroke="#2a2a2a" stroke-width="0.7"/>
<line x1="278.2" y1="301.5" x2="280.8" y2="301.5" stroke="#2a2a2a" stroke-width="0.7"/>
<line x1="290.5" y1="279.5" x2="290.5" y2="287.5" stroke="#2a2a2a" stroke-width="0.7"/>
<line x1="289.2" y1="279.5" x2="291.8" y2="279.5" stroke="#2a2a2a" stroke-width="0.7"/>
<line x1="289.2" y1="287.5" x2="291.8" y2="287.5" stroke="#2a2a2a" stroke-width="0.7"/>
<line x1="301.5" y1="266.5" x2="301.5" y2="274.5" stroke="#2a2a2a" stroke-width="0.7"/>
<line x1="300.2" y1="266.5" x2="302.8" y2="266.5" stroke="#2a2a2a" stroke-width="0.7"/>
<line x1="300.2" y1="274.5" x2="302.8" y2="274.5" stroke="#2a2a2a" stroke-width="0.7"/>
<path d="M254.85 326.2L259.15 326.2L257 330.1Z" fill="#10200c"/>
<path d="M265.85 313.6L270.15 313.6L268 317.5Z" fill="#10200c"/>
<path d="M276.85 296.37L281.15 296.37L279 300.26Z" fill="#10200c"/>
<path d="M288.05 281.78L292.35 281.78L290.2 285.68Z" fill="#10200c"/>
<path d="M299.15 269.18L303.45 269.18L301.3 273.08Z" fill="#10200c"/>
<circle cx="257" cy="327.9" r="1.6" fill="#fff" stroke="#4a1612" stroke-width="0.85"/>
<circle cx="268" cy="320.61" r="1.6" fill="#fff" stroke="#4a1612" stroke-width="0.85"/>
<circle cx="279" cy="304.69" r="1.6" fill="#fff" stroke="#4a1612" stroke-width="0.85"/>
<circle cx="290.2" cy="292.1" r="1.6" fill="#fff" stroke="#4a1612" stroke-width="0.85"/>
<circle cx="301.3" cy="280.16" r="1.6" fill="#fff" stroke="#4a1612" stroke-width="0.85"/>
<circle cx="257" cy="327.9" r="1.9" fill="#050505"/>
<circle cx="268" cy="324.58" r="1.9" fill="#050505"/>
<circle cx="279" cy="313.98" r="1.9" fill="#050505"/>
<circle cx="290.2" cy="305.36" r="1.9" fill="#050505"/>
<circle cx="301.3" cy="300.05" r="1.9" fill="#050505"/>
<text x="188" y="338.82" font-size="7.6" font-weight="bold" stroke="#1a1a1a" stroke-width="0.35" text-anchor="middle" fill="#1a1a1a">0</text>
<text x="199" y="338.82" font-size="7.6" font-weight="bold" stroke="#1a1a1a" stroke-width="0.35" text-anchor="middle" fill="#1a1a1a">3</text>
<text x="210" y="338.82" font-size="7.6" font-weight="bold" stroke="#1a1a1a" stroke-width="0.35" text-anchor="middle" fill="#1a1a1a">6</text>
<text x="221" y="338.82" font-size="7.6" font-weight="bold" stroke="#1a1a1a" stroke-width="0.35" text-anchor="middle" fill="#1a1a1a">12</text>
<text x="232" y="338.82" font-size="7.6" font-weight="bold" stroke="#1a1a1a" stroke-width="0.35" text-anchor="middle" fill="#1a1a1a">24</text>
<text x="257" y="338.82" font-size="7.6" font-weight="bold" stroke="#1a1a1a" stroke-width="0.35" text-anchor="middle" fill="#1a1a1a">0</text>
<text x="268" y="338.82" font-size="7.6" font-weight="bold" stroke="#1a1a1a" stroke-width="0.35" text-anchor="middle" fill="#1a1a1a">3</text>
<text x="279" y="338.82" font-size="7.6" font-weight="bold" stroke="#1a1a1a" stroke-width="0.35" text-anchor="middle" fill="#1a1a1a">6</text>
<text x="290.2" y="338.82" font-size="7.6" font-weight="bold" stroke="#1a1a1a" stroke-width="0.35" text-anchor="middle" fill="#1a1a1a">12</text>
<text x="301.3" y="338.82" font-size="7.6" font-weight="bold" stroke="#1a1a1a" stroke-width="0.35" text-anchor="middle" fill="#1a1a1a">24</text>
<text x="313.2" y="338.82" font-size="7.6" font-weight="bold" stroke="#1a1a1a" stroke-width="0.35" text-anchor="middle" fill="#1a1a1a">(h)</text>
<line x1="313" y1="281.8" x2="328" y2="281.8" stroke="#333" stroke-width="0.7"/>
<circle cx="320.5" cy="281.8" r="1.45" fill="#050505"/>
<text x="332.7" y="284.38" font-size="7.2" font-weight="bold" stroke="#1a1a1a" stroke-width="0.35" text-anchor="start" fill="#1a1a1a">GEM</text>
<line x1="313" y1="291.3" x2="328" y2="291.3" stroke="#e6a3a0" stroke-width="0.7"/>
<circle cx="320.5" cy="291.3" r="1.1" fill="#8a5a58" stroke="#5a1410" stroke-width="0.9"/>
<text x="332.7" y="293.88" font-size="7.2" font-weight="bold" stroke="#1a1a1a" stroke-width="0.35" text-anchor="start" fill="#1a1a1a">GEM+EGCG</text>
<line x1="313" y1="300.9" x2="328" y2="300.9" stroke="#b4cca2" stroke-width="0.7"/>
<path d="M319 299.7L322 299.7L320.5 302.5Z" fill="#1c3a12"/>
<text x="332.7" y="303.48" font-size="7.2" font-weight="bold" stroke="#1a1a1a" stroke-width="0.35" text-anchor="start" fill="#1a1a1a">GEM+SAS</text>
<path d="M376 281.5H378.5V291.5H376" fill="none" stroke="#4a4a4a" stroke-width="0.9"/>
<path d="M381.2 280.5H384.5V300.5H381.2" fill="none" stroke="#4a4a4a" stroke-width="0.9"/>
<text x="387" y="292.82" font-size="5.6" font-family="DejaVu Sans, sans-serif" text-anchor="middle" fill="#0a0a0a" stroke="#0a0a0a" stroke-width="0.42">★</text>
<text x="2" y="361.33" font-size="13.5" font-weight="bold" stroke="#1a1a1a" stroke-width="0.35" text-anchor="start" fill="#1a1a1a">G</text>
<line x1="24.8" y1="449.5" x2="26.8" y2="449.5" stroke="#444" stroke-width="0.9"/>
<text x="22.5" y="452.11" font-size="7.3" stroke="#222" stroke-width="0.22" text-anchor="end" fill="#222">0</text>
<line x1="24.8" y1="439.5" x2="26.8" y2="439.5" stroke="#444" stroke-width="0.9"/>
<text x="22.5" y="442.11" font-size="7.3" stroke="#222" stroke-width="0.22" text-anchor="end" fill="#222">50</text>
<line x1="24.8" y1="430.5" x2="26.8" y2="430.5" stroke="#444" stroke-width="0.9"/>
<text x="22.5" y="433.11" font-size="7.3" stroke="#222" stroke-width="0.22" text-anchor="end" fill="#222">100</text>
<line x1="24.8" y1="420.5" x2="26.8" y2="420.5" stroke="#444" stroke-width="0.9"/>
<text x="22.5" y="423.11" font-size="7.3" stroke="#222" stroke-width="0.22" text-anchor="end" fill="#222">150</text>
<line x1="24.8" y1="411.5" x2="26.8" y2="411.5" stroke="#444" stroke-width="0.9"/>
<text x="22.5" y="414.11" font-size="7.3" stroke="#222" stroke-width="0.22" text-anchor="end" fill="#222">200</text>
<line x1="24.8" y1="401.5" x2="26.8" y2="401.5" stroke="#444" stroke-width="0.9"/>
<text x="22.5" y="404.11" font-size="7.3" stroke="#222" stroke-width="0.22" text-anchor="end" fill="#222">250</text>
<line x1="24.8" y1="392.5" x2="26.8" y2="392.5" stroke="#444" stroke-width="0.9"/>
<text x="22.5" y="395.11" font-size="7.3" stroke="#222" stroke-width="0.22" text-anchor="end" fill="#222">300</text>
<line x1="24.8" y1="382.5" x2="26.8" y2="382.5" stroke="#444" stroke-width="0.9"/>
<text x="22.5" y="385.11" font-size="7.3" stroke="#222" stroke-width="0.22" text-anchor="end" fill="#222">350</text>
<text transform="translate(4.6 412.2) rotate(-90)" x="0" y="2.72" font-size="7.6" font-weight="bold" stroke="#1a1a1a" stroke-width="0.35" text-anchor="middle" fill="#1a1a1a">MDA (%)</text>
<rect x="26.5" y="382.5" width="67" height="67" fill="none" stroke="#868686" stroke-width="1"/>
<line x1="26" y1="449.5" x2="94" y2="449.5" stroke="#3a3a3a" stroke-width="1"/>
<line x1="26.5" y1="382.5" x2="26.5" y2="449.5" stroke="#6a6a6a" stroke-width="1"/>
<line x1="37.5" y1="449.1" x2="37.5" y2="451.4" stroke="#444" stroke-width="0.9"/>
<line x1="48.5" y1="449.1" x2="48.5" y2="451.4" stroke="#444" stroke-width="0.9"/>
<line x1="60.5" y1="449.1" x2="60.5" y2="451.4" stroke="#444" stroke-width="0.9"/>
<line x1="70.5" y1="449.1" x2="70.5" y2="451.4" stroke="#444" stroke-width="0.9"/>
<line x1="81.5" y1="449.1" x2="81.5" y2="451.4" stroke="#444" stroke-width="0.9"/>
<text x="60.5" y="392.22" font-size="7.6" font-weight="bold" stroke="#1a1a1a" stroke-width="0.35" text-anchor="middle" fill="#1a1a1a">PANC1</text>
<polyline points="37.8,430.16 48.9,430.16 60,428.64 70.9,427.69 81.9,425.42" fill="none" stroke="#111" stroke-width="1"/>
<polyline points="37.8,430.16 48.9,427.69 60,421.63 70.9,415.57 81.9,405.15" fill="none" stroke="#cc6a62" stroke-width="0.8"/>
<polyline points="37.8,430.16 48.9,422.01 60,417.28 70.9,405.15 81.9,396.44" fill="none" stroke="#90bb79" stroke-width="0.8"/>
<line x1="48.5" y1="429.5" x2="48.5" y2="431.5" stroke="#2a2a2a" stroke-width="0.7"/>
<line x1="47.2" y1="429.5" x2="49.8" y2="429.5" stroke="#2a2a2a" stroke-width="0.7"/>
<line x1="47.2" y1="431.5" x2="49.8" y2="431.5" stroke="#2a2a2a" stroke-width="0.7"/>
<line x1="60.5" y1="427.5" x2="60.5" y2="429.5" stroke="#2a2a2a" stroke-width="0.7"/>
<line x1="59.2" y1="427.5" x2="61.8" y2="427.5" stroke="#2a2a2a" stroke-width="0.7"/>
<line x1="59.2" y1="429.5" x2="61.8" y2="429.5" stroke="#2a2a2a" stroke-width="0.7"/>
<line x1="70.5" y1="425.5" x2="70.5" y2="429.5" stroke="#2a2a2a" stroke-width="0.7"/>
<line x1="69.2" y1="425.5" x2="71.8" y2="425.5" stroke="#2a2a2a" stroke-width="0.7"/>
<line x1="69.2" y1="429.5" x2="71.8" y2="429.5" stroke="#2a2a2a" stroke-width="0.7"/>
<line x1="81.5" y1="420.5" x2="81.5" y2="430.5" stroke="#2a2a2a" stroke-width="0.7"/>
<line x1="80.2" y1="420.5" x2="82.8" y2="420.5" stroke="#2a2a2a" stroke-width="0.7"/>
<line x1="80.2" y1="430.5" x2="82.8" y2="430.5" stroke="#2a2a2a" stroke-width="0.7"/>
<line x1="48.5" y1="426.5" x2="48.5" y2="428.5" stroke="#2a2a2a" stroke-width="0.7"/>
<line x1="47.2" y1="426.5" x2="49.8" y2="426.5" stroke="#2a2a2a" stroke-width="0.7"/>
<line x1="47.2" y1="428.5" x2="49.8" y2="428.5" stroke="#2a2a2a" stroke-width="0.7"/>
<line x1="60.5" y1="419.5" x2="60.5" y2="423.5" stroke="#2a2a2a" stroke-width="0.7"/>
<line x1="59.2" y1="419.5" x2="61.8" y2="419.5" stroke="#2a2a2a" stroke-width="0.7"/>
<line x1="59.2" y1="423.5" x2="61.8" y2="423.5" stroke="#2a2a2a" stroke-width="0.7"/>
<line x1="70.5" y1="407.5" x2="70.5" y2="424.5" stroke="#2a2a2a" stroke-width="0.7"/>
<line x1="69.2" y1="407.5" x2="71.8" y2="407.5" stroke="#2a2a2a" stroke-width="0.7"/>
<line x1="69.2" y1="424.5" x2="71.8" y2="424.5" stroke="#2a2a2a" stroke-width="0.7"/>
<line x1="81.5" y1="401.5" x2="81.5" y2="408.5" stroke="#2a2a2a" stroke-width="0.7"/>
<line x1="80.2" y1="401.5" x2="82.8" y2="401.5" stroke="#2a2a2a" stroke-width="0.7"/>
<line x1="80.2" y1="408.5" x2="82.8" y2="408.5" stroke="#2a2a2a" stroke-width="0.7"/>
<line x1="48.5" y1="421.5" x2="48.5" y2="422.5" stroke="#2a2a2a" stroke-width="0.7"/>
<line x1="47.2" y1="421.5" x2="49.8" y2="421.5" stroke="#2a2a2a" stroke-width="0.7"/>
<line x1="47.2" y1="422.5" x2="49.8" y2="422.5" stroke="#2a2a2a" stroke-width="0.7"/>
<line x1="60.5" y1="415.5" x2="60.5" y2="418.5" stroke="#2a2a2a" stroke-width="0.7"/>
<line x1="59.2" y1="415.5" x2="61.8" y2="415.5" stroke="#2a2a2a" stroke-width="0.7"/>
<line x1="59.2" y1="418.5" x2="61.8" y2="418.5" stroke="#2a2a2a" stroke-width="0.7"/>
<line x1="70.5" y1="400.5" x2="70.5" y2="409.5" stroke="#2a2a2a" stroke-width="0.7"/>
<line x1="69.2" y1="400.5" x2="71.8" y2="400.5" stroke="#2a2a2a" stroke-width="0.7"/>
<line x1="69.2" y1="409.5" x2="71.8" y2="409.5" stroke="#2a2a2a" stroke-width="0.7"/>
<line x1="81.5" y1="392.5" x2="81.5" y2="400.5" stroke="#2a2a2a" stroke-width="0.7"/>
<line x1="80.2" y1="392.5" x2="82.8" y2="392.5" stroke="#2a2a2a" stroke-width="0.7"/>
<line x1="80.2" y1="400.5" x2="82.8" y2="400.5" stroke="#2a2a2a" stroke-width="0.7"/>
<path d="M35.65 428.46L39.95 428.46L37.8 432.36Z" fill="#10200c"/>
<path d="M46.75 420.31L51.05 420.31L48.9 424.21Z" fill="#10200c"/>
<path d="M57.85 415.58L62.15 415.58L60 419.48Z" fill="#10200c"/>
<path d="M68.75 403.45L73.05 403.45L70.9 407.35Z" fill="#10200c"/>
<path d="M79.75 394.74L84.05 394.74L81.9 398.64Z" fill="#10200c"/>
<circle cx="37.8" cy="430.16" r="1.6" fill="#fff" stroke="#4a1612" stroke-width="0.85"/>
<circle cx="48.9" cy="427.69" r="1.6" fill="#fff" stroke="#4a1612" stroke-width="0.85"/>
<circle cx="60" cy="421.63" r="1.6" fill="#fff" stroke="#4a1612" stroke-width="0.85"/>
<circle cx="70.9" cy="415.57" r="1.6" fill="#fff" stroke="#4a1612" stroke-width="0.85"/>
<circle cx="81.9" cy="405.15" r="1.6" fill="#fff" stroke="#4a1612" stroke-width="0.85"/>
<circle cx="37.8" cy="430.16" r="1.9" fill="#050505"/>
<circle cx="48.9" cy="430.16" r="1.9" fill="#050505"/>
<circle cx="60" cy="428.64" r="1.9" fill="#050505"/>
<circle cx="70.9" cy="427.69" r="1.9" fill="#050505"/>
<circle cx="81.9" cy="425.42" r="1.9" fill="#050505"/>
<rect x="95.5" y="382.5" width="67" height="67" fill="none" stroke="#868686" stroke-width="1"/>
<line x1="95" y1="449.5" x2="163" y2="449.5" stroke="#3a3a3a" stroke-width="1"/>
<line x1="95.5" y1="382.5" x2="95.5" y2="449.5" stroke="#6a6a6a" stroke-width="1"/>
<line x1="107.5" y1="449.1" x2="107.5" y2="451.4" stroke="#444" stroke-width="0.9"/>
<line x1="119.5" y1="449.1" x2="119.5" y2="451.4" stroke="#444" stroke-width="0.9"/>
<line x1="130.5" y1="449.1" x2="130.5" y2="451.4" stroke="#444" stroke-width="0.9"/>
<line x1="141.5" y1="449.1" x2="141.5" y2="451.4" stroke="#444" stroke-width="0.9"/>
<line x1="152.5" y1="449.1" x2="152.5" y2="451.4" stroke="#444" stroke-width="0.9"/>
<text x="129.3" y="392.22" font-size="7.6" font-weight="bold" stroke="#1a1a1a" stroke-width="0.35" text-anchor="middle" fill="#1a1a1a">CFPAC1</text>
<polyline points="107.7,430.16 119,430.16 130,430.16 141.2,427.88 152.3,422.58" fill="none" stroke="#111" stroke-width="1"/>
<polyline points="107.7,430.16 119,426.37 130,419.36 141.2,409.13 152.3,398.71" fill="none" stroke="#cc6a62" stroke-width="0.8"/>
<polyline points="107.7,430.16 119,422.58 130,413.68 141.2,397.01 152.3,390.76" fill="none" stroke="#90bb79" stroke-width="0.8"/>
<line x1="119.5" y1="429.5" x2="119.5" y2="431.5" stroke="#2a2a2a" stroke-width="0.7"/>
<line x1="118.2" y1="429.5" x2="120.8" y2="429.5" stroke="#2a2a2a" stroke-width="0.7"/>
<line x1="118.2" y1="431.5" x2="120.8" y2="431.5" stroke="#2a2a2a" stroke-width="0.7"/>
<line x1="130.5" y1="426.5" x2="130.5" y2="433.5" stroke="#2a2a2a" stroke-width="0.7"/>
<line x1="129.2" y1="426.5" x2="131.8" y2="426.5" stroke="#2a2a2a" stroke-width="0.7"/>
<line x1="129.2" y1="433.5" x2="131.8" y2="433.5" stroke="#2a2a2a" stroke-width="0.7"/>
<line x1="141.5" y1="426.5" x2="141.5" y2="428.5" stroke="#2a2a2a" stroke-width="0.7"/>
<line x1="140.2" y1="426.5" x2="142.8" y2="426.5" stroke="#2a2a2a" stroke-width="0.7"/>
<line x1="140.2" y1="428.5" x2="142.8" y2="428.5" stroke="#2a2a2a" stroke-width="0.7"/>
<line x1="152.5" y1="420.5" x2="152.5" y2="424.5" stroke="#2a2a2a" stroke-width="0.7"/>
<line x1="151.2" y1="420.5" x2="153.8" y2="420.5" stroke="#2a2a2a" stroke-width="0.7"/>
<line x1="151.2" y1="424.5" x2="153.8" y2="424.5" stroke="#2a2a2a" stroke-width="0.7"/>
<line x1="119.5" y1="424.5" x2="119.5" y2="428.5" stroke="#2a2a2a" stroke-width="0.7"/>
<line x1="118.2" y1="424.5" x2="120.8" y2="424.5" stroke="#2a2a2a" stroke-width="0.7"/>
<line x1="118.2" y1="428.5" x2="120.8" y2="428.5" stroke="#2a2a2a" stroke-width="0.7"/>
<line x1="130.5" y1="417.5" x2="130.5" y2="421.5" stroke="#2a2a2a" stroke-width="0.7"/>
<line x1="129.2" y1="417.5" x2="131.8" y2="417.5" stroke="#2a2a2a" stroke-width="0.7"/>
<line x1="129.2" y1="421.5" x2="131.8" y2="421.5" stroke="#2a2a2a" stroke-width="0.7"/>
<line x1="141.5" y1="405.5" x2="141.5" y2="412.5" stroke="#2a2a2a" stroke-width="0.7"/>
<line x1="140.2" y1="405.5" x2="142.8" y2="405.5" stroke="#2a2a2a" stroke-width="0.7"/>
<line x1="140.2" y1="412.5" x2="142.8" y2="412.5" stroke="#2a2a2a" stroke-width="0.7"/>
<line x1="152.5" y1="393.5" x2="152.5" y2="403.5" stroke="#2a2a2a" stroke-width="0.7"/>
<line x1="151.2" y1="393.5" x2="153.8" y2="393.5" stroke="#2a2a2a" stroke-width="0.7"/>
<line x1="151.2" y1="403.5" x2="153.8" y2="403.5" stroke="#2a2a2a" stroke-width="0.7"/>
<line x1="119.5" y1="421.5" x2="119.5" y2="423.5" stroke="#2a2a2a" stroke-width="0.7"/>
<line x1="118.2" y1="421.5" x2="120.8" y2="421.5" stroke="#2a2a2a" stroke-width="0.7"/>
<line x1="118.2" y1="423.5" x2="120.8" y2="423.5" stroke="#2a2a2a" stroke-width="0.7"/>
<line x1="130.5" y1="412.5" x2="130.5" y2="414.5" stroke="#2a2a2a" stroke-width="0.7"/>
<line x1="129.2" y1="412.5" x2="131.8" y2="412.5" stroke="#2a2a2a" stroke-width="0.7"/>
<line x1="129.2" y1="414.5" x2="131.8" y2="414.5" stroke="#2a2a2a" stroke-width="0.7"/>
<line x1="141.5" y1="396.5" x2="141.5" y2="397.5" stroke="#2a2a2a" stroke-width="0.7"/>
<line x1="140.2" y1="396.5" x2="142.8" y2="396.5" stroke="#2a2a2a" stroke-width="0.7"/>
<line x1="140.2" y1="397.5" x2="142.8" y2="397.5" stroke="#2a2a2a" stroke-width="0.7"/>
<line x1="152.5" y1="388.5" x2="152.5" y2="393.5" stroke="#2a2a2a" stroke-width="0.7"/>
<line x1="151.2" y1="388.5" x2="153.8" y2="388.5" stroke="#2a2a2a" stroke-width="0.7"/>
<line x1="151.2" y1="393.5" x2="153.8" y2="393.5" stroke="#2a2a2a" stroke-width="0.7"/>
<path d="M105.55 428.46L109.85 428.46L107.7 432.36Z" fill="#10200c"/>
<path d="M116.85 420.88L121.15 420.88L119 424.78Z" fill="#10200c"/>
<path d="M127.85 411.98L132.15 411.98L130 415.88Z" fill="#10200c"/>
<path d="M139.05 395.31L143.35 395.31L141.2 399.21Z" fill="#10200c"/>
<path d="M150.15 389.06L154.45 389.06L152.3 392.96Z" fill="#10200c"/>
<circle cx="107.7" cy="430.16" r="1.6" fill="#fff" stroke="#4a1612" stroke-width="0.85"/>
<circle cx="119" cy="426.37" r="1.6" fill="#fff" stroke="#4a1612" stroke-width="0.85"/>
<circle cx="130" cy="419.36" r="1.6" fill="#fff" stroke="#4a1612" stroke-width="0.85"/>
<circle cx="141.2" cy="409.13" r="1.6" fill="#fff" stroke="#4a1612" stroke-width="0.85"/>
<circle cx="152.3" cy="398.71" r="1.6" fill="#fff" stroke="#4a1612" stroke-width="0.85"/>
<circle cx="107.7" cy="430.16" r="1.9" fill="#050505"/>
<circle cx="119" cy="430.16" r="1.9" fill="#050505"/>
<circle cx="130" cy="430.16" r="1.9" fill="#050505"/>
<circle cx="141.2" cy="427.88" r="1.9" fill="#050505"/>
<circle cx="152.3" cy="422.58" r="1.9" fill="#050505"/>
<text x="37.8" y="460.52" font-size="7.6" font-weight="bold" stroke="#1a1a1a" stroke-width="0.35" text-anchor="middle" fill="#1a1a1a">0</text>
<text x="48.9" y="460.52" font-size="7.6" font-weight="bold" stroke="#1a1a1a" stroke-width="0.35" text-anchor="middle" fill="#1a1a1a">3</text>
<text x="60" y="460.52" font-size="7.6" font-weight="bold" stroke="#1a1a1a" stroke-width="0.35" text-anchor="middle" fill="#1a1a1a">6</text>
<text x="70.9" y="460.52" font-size="7.6" font-weight="bold" stroke="#1a1a1a" stroke-width="0.35" text-anchor="middle" fill="#1a1a1a">12</text>
<text x="81.9" y="460.52" font-size="7.6" font-weight="bold" stroke="#1a1a1a" stroke-width="0.35" text-anchor="middle" fill="#1a1a1a">24</text>
<text x="107.7" y="460.52" font-size="7.6" font-weight="bold" stroke="#1a1a1a" stroke-width="0.35" text-anchor="middle" fill="#1a1a1a">0</text>
<text x="119" y="460.52" font-size="7.6" font-weight="bold" stroke="#1a1a1a" stroke-width="0.35" text-anchor="middle" fill="#1a1a1a">3</text>
<text x="130" y="460.52" font-size="7.6" font-weight="bold" stroke="#1a1a1a" stroke-width="0.35" text-anchor="middle" fill="#1a1a1a">6</text>
<text x="141.2" y="460.52" font-size="7.6" font-weight="bold" stroke="#1a1a1a" stroke-width="0.35" text-anchor="middle" fill="#1a1a1a">12</text>
<text x="152.3" y="460.52" font-size="7.6" font-weight="bold" stroke="#1a1a1a" stroke-width="0.35" text-anchor="middle" fill="#1a1a1a">24</text>
<text x="166.3" y="460.52" font-size="7.6" font-weight="bold" stroke="#1a1a1a" stroke-width="0.35" text-anchor="middle" fill="#1a1a1a">(h)</text>
<line x1="62.6" y1="357.2" x2="78.5" y2="357.2" stroke="#333" stroke-width="0.7"/>
<circle cx="70.55" cy="357.2" r="1.45" fill="#050505"/>
<text x="82.4" y="359.78" font-size="7.2" font-weight="bold" stroke="#1a1a1a" stroke-width="0.35" text-anchor="start" fill="#1a1a1a">GEM</text>
<line x1="62.6" y1="366.4" x2="78.5" y2="366.4" stroke="#e6a3a0" stroke-width="0.7"/>
<circle cx="70.55" cy="366.4" r="1.1" fill="#8a5a58" stroke="#5a1410" stroke-width="0.9"/>
<text x="82.4" y="368.98" font-size="7.2" font-weight="bold" stroke="#1a1a1a" stroke-width="0.35" text-anchor="start" fill="#1a1a1a">GEM+EGCG</text>
<line x1="62.6" y1="375.2" x2="78.5" y2="375.2" stroke="#b4cca2" stroke-width="0.7"/>
<path d="M69.05 374L72.05 374L70.55 376.8Z" fill="#1c3a12"/>
<text x="82.4" y="377.78" font-size="7.2" font-weight="bold" stroke="#1a1a1a" stroke-width="0.35" text-anchor="start" fill="#1a1a1a">GEM+SAS</text>
<path d="M126.3 356.5H128.5V366.5H126.3" fill="none" stroke="#4a4a4a" stroke-width="0.9"/>
<path d="M131.4 356.5H134.5V374.5H131.4" fill="none" stroke="#4a4a4a" stroke-width="0.9"/>
<text x="137.5" y="367.62" font-size="5.6" font-family="DejaVu Sans, sans-serif" text-anchor="middle" fill="#0a0a0a" stroke="#0a0a0a" stroke-width="0.42">★</text>
<text x="201" y="361.33" font-size="13.5" font-weight="bold" stroke="#1a1a1a" stroke-width="0.35" text-anchor="start" fill="#1a1a1a">H</text>
<rect x="251.52" y="424.64" width="3.75" height="24.46" fill="#050505"/>
<line x1="253.5" y1="421.5" x2="253.5" y2="424.64" stroke="#222" stroke-width="0.9"/>
<line x1="252.5" y1="421.5" x2="254.5" y2="421.5" stroke="#222" stroke-width="0.9"/>
<rect x="255.27" y="402.83" width="3.75" height="46.27" fill="#e3342a"/>
<line x1="257.5" y1="399.5" x2="257.5" y2="402.83" stroke="#e3342a" stroke-width="0.9"/>
<line x1="256.5" y1="399.5" x2="258.5" y2="399.5" stroke="#e3342a" stroke-width="0.9"/>
<rect x="259.02" y="392.25" width="3.75" height="56.85" fill="#82c24a"/>
<rect x="265.77" y="429.93" width="3.75" height="19.17" fill="#050505"/>
<line x1="267.5" y1="427.5" x2="267.5" y2="429.93" stroke="#222" stroke-width="0.9"/>
<line x1="266.5" y1="427.5" x2="268.5" y2="427.5" stroke="#222" stroke-width="0.9"/>
<rect x="269.52" y="435.22" width="3.75" height="13.88" fill="#e3342a"/>
<line x1="271.5" y1="433.5" x2="271.5" y2="435.22" stroke="#e3342a" stroke-width="0.9"/>
<line x1="270.5" y1="433.5" x2="272.5" y2="433.5" stroke="#e3342a" stroke-width="0.9"/>
<rect x="273.27" y="432.58" width="3.75" height="16.52" fill="#82c24a"/>
<line x1="275.5" y1="430.5" x2="275.5" y2="432.58" stroke="#82c24a" stroke-width="0.9"/>
<line x1="274.5" y1="430.5" x2="276.5" y2="430.5" stroke="#82c24a" stroke-width="0.9"/>
<rect x="280.02" y="431.91" width="3.75" height="17.19" fill="#050505"/>
<line x1="281.5" y1="428.5" x2="281.5" y2="431.91" stroke="#222" stroke-width="0.9"/>
<line x1="280.5" y1="428.5" x2="282.5" y2="428.5" stroke="#222" stroke-width="0.9"/>
<rect x="283.77" y="437.2" width="3.75" height="11.9" fill="#e3342a"/>
<line x1="285.5" y1="435.5" x2="285.5" y2="437.2" stroke="#e3342a" stroke-width="0.9"/>
<line x1="284.5" y1="435.5" x2="286.5" y2="435.5" stroke="#e3342a" stroke-width="0.9"/>
<rect x="287.52" y="437.86" width="3.75" height="11.24" fill="#82c24a"/>
<line x1="289.5" y1="436.5" x2="289.5" y2="437.86" stroke="#82c24a" stroke-width="0.9"/>
<line x1="288.5" y1="436.5" x2="290.5" y2="436.5" stroke="#82c24a" stroke-width="0.9"/>
<rect x="294.27" y="443.81" width="3.75" height="5.29" fill="#050505"/>
<line x1="296.5" y1="443.5" x2="296.5" y2="443.81" stroke="#222" stroke-width="0.9"/>
<line x1="295.5" y1="443.5" x2="297.5" y2="443.5" stroke="#222" stroke-width="0.9"/>
<rect x="298.02" y="408.12" width="3.75" height="40.98" fill="#e3342a"/>
<rect x="301.77" y="404.15" width="3.75" height="44.95" fill="#82c24a"/>
<line x1="303.5" y1="402.5" x2="303.5" y2="404.15" stroke="#82c24a" stroke-width="0.9"/>
<line x1="302.5" y1="402.5" x2="304.5" y2="402.5" stroke="#82c24a" stroke-width="0.9"/>
<rect x="308.52" y="421.34" width="3.75" height="27.76" fill="#050505"/>
<line x1="310.5" y1="418.5" x2="310.5" y2="421.34" stroke="#222" stroke-width="0.9"/>
<line x1="309.5" y1="418.5" x2="311.5" y2="418.5" stroke="#222" stroke-width="0.9"/>
<rect x="312.27" y="400.85" width="3.75" height="48.25" fill="#e3342a"/>
<line x1="314.5" y1="398.5" x2="314.5" y2="400.85" stroke="#e3342a" stroke-width="0.9"/>
<line x1="313.5" y1="398.5" x2="315.5" y2="398.5" stroke="#e3342a" stroke-width="0.9"/>
<rect x="316.02" y="389.61" width="3.75" height="59.49" fill="#82c24a"/>
<text x="271.5" y="430.52" font-size="5.3" font-family="DejaVu Sans, sans-serif" text-anchor="middle" fill="#0a0a0a" stroke="#0a0a0a" stroke-width="0.42">★</text>
<text x="275.5" y="429.2" font-size="5.3" font-family="DejaVu Sans, sans-serif" text-anchor="middle" fill="#0a0a0a" stroke="#0a0a0a" stroke-width="0.42">★</text>
<text x="285.5" y="433.16" font-size="5.3" font-family="DejaVu Sans, sans-serif" text-anchor="middle" fill="#0a0a0a" stroke="#0a0a0a" stroke-width="0.42">★</text>
<text x="289.7" y="435.81" font-size="5.3" font-family="DejaVu Sans, sans-serif" text-anchor="middle" fill="#0a0a0a" stroke="#0a0a0a" stroke-width="0.42">★</text>
<rect x="228.5" y="383.5" width="99" height="66" fill="none" stroke="#868686" stroke-width="1"/>
<line x1="228" y1="449.5" x2="328" y2="449.5" stroke="#3a3a3a" stroke-width="1"/>
<line x1="228.5" y1="383.5" x2="228.5" y2="449.5" stroke="#6a6a6a" stroke-width="1"/>
<line x1="226.3" y1="449.5" x2="228.3" y2="449.5" stroke="#444" stroke-width="0.9"/>
<text x="224" y="452.11" font-size="7.3" stroke="#222" stroke-width="0.22" text-anchor="end" fill="#222">0</text>
<line x1="226.3" y1="435.5" x2="228.3" y2="435.5" stroke="#444" stroke-width="0.9"/>
<text x="224" y="438.11" font-size="7.3" stroke="#222" stroke-width="0.22" text-anchor="end" fill="#222">20</text>
<line x1="226.3" y1="422.5" x2="228.3" y2="422.5" stroke="#444" stroke-width="0.9"/>
<text x="224" y="425.11" font-size="7.3" stroke="#222" stroke-width="0.22" text-anchor="end" fill="#222">40</text>
<line x1="226.3" y1="409.5" x2="228.3" y2="409.5" stroke="#444" stroke-width="0.9"/>
<text x="224" y="412.11" font-size="7.3" stroke="#222" stroke-width="0.22" text-anchor="end" fill="#222">60</text>
<line x1="226.3" y1="396.5" x2="228.3" y2="396.5" stroke="#444" stroke-width="0.9"/>
<text x="224" y="399.11" font-size="7.3" stroke="#222" stroke-width="0.22" text-anchor="end" fill="#222">80</text>
<line x1="226.3" y1="383.5" x2="228.3" y2="383.5" stroke="#444" stroke-width="0.9"/>
<text x="224" y="386.11" font-size="7.3" stroke="#222" stroke-width="0.22" text-anchor="end" fill="#222">100</text>
<line x1="242.5" y1="449.1" x2="242.5" y2="451.4" stroke="#444" stroke-width="0.9"/>
<text x="243.4" y="460.41" font-size="7.3" stroke="#222" stroke-width="0.22" text-anchor="middle" fill="#222">1</text>
<line x1="257.5" y1="449.1" x2="257.5" y2="451.4" stroke="#444" stroke-width="0.9"/>
<text x="257.65" y="460.41" font-size="7.3" stroke="#222" stroke-width="0.22" text-anchor="middle" fill="#222">2</text>
<line x1="271.5" y1="449.1" x2="271.5" y2="451.4" stroke="#444" stroke-width="0.9"/>
<text x="271.9" y="460.41" font-size="7.3" stroke="#222" stroke-width="0.22" text-anchor="middle" fill="#222">3</text>
<line x1="285.5" y1="449.1" x2="285.5" y2="451.4" stroke="#444" stroke-width="0.9"/>
<text x="286.15" y="460.41" font-size="7.3" stroke="#222" stroke-width="0.22" text-anchor="middle" fill="#222">4</text>
<line x1="299.5" y1="449.1" x2="299.5" y2="451.4" stroke="#444" stroke-width="0.9"/>
<text x="300.4" y="460.41" font-size="7.3" stroke="#222" stroke-width="0.22" text-anchor="middle" fill="#222">5</text>
<line x1="314.5" y1="449.1" x2="314.5" y2="451.4" stroke="#444" stroke-width="0.9"/>
<text x="314.65" y="460.41" font-size="7.3" stroke="#222" stroke-width="0.22" text-anchor="middle" fill="#222">6</text>
<text x="280" y="394.72" font-size="7.6" font-weight="bold" stroke="#1a1a1a" stroke-width="0.35" text-anchor="middle" fill="#1a1a1a">PANC1</text>
<text transform="translate(207.5 414) rotate(-90)" x="0" y="2.72" font-size="7.6" font-weight="bold" stroke="#1a1a1a" stroke-width="0.35" text-anchor="middle" fill="#1a1a1a">Cell death (%)</text>
<rect x="255.5" y="354.6" width="5.2" height="5.2" fill="#050505"/>
<text x="263.5" y="359.8" font-size="7.25" font-weight="bold" stroke="#1a1a1a" stroke-width="0.35" text-anchor="start" fill="#1a1a1a">GEM</text>
<rect x="255.5" y="363.2" width="5.2" height="5.2" fill="#e3342a"/>
<text x="263.5" y="368.4" font-size="7.25" font-weight="bold" stroke="#1a1a1a" stroke-width="0.35" text-anchor="start" fill="#1a1a1a">GEM+EGCG</text>
<rect x="255.5" y="371.8" width="5.2" height="5.2" fill="#82c24a"/>
<text x="263.5" y="377" font-size="7.25" font-weight="bold" stroke="#1a1a1a" stroke-width="0.35" text-anchor="start" fill="#1a1a1a">GEM+SAS</text>
<text x="330.4" y="393.72" font-size="7.6" font-weight="bold" stroke="#1a1a1a" stroke-width="0.35" text-anchor="start" fill="#1a1a1a">1: Untreated</text>
<text x="330.4" y="402.92" font-size="7.6" font-weight="bold" stroke="#1a1a1a" stroke-width="0.35" text-anchor="start" fill="#1a1a1a">2: Treat</text>
<text x="330.4" y="412.12" font-size="7.6" font-weight="bold" stroke="#1a1a1a" stroke-width="0.35" text-anchor="start" fill="#1a1a1a">3: +Ferrostatin-1</text>
<text x="330.4" y="421.32" font-size="7.6" font-weight="bold" stroke="#1a1a1a" stroke-width="0.35" text-anchor="start" fill="#1a1a1a">4: +Liproxstatin-1</text>
<text x="330.4" y="430.52" font-size="7.6" font-weight="bold" stroke="#1a1a1a" stroke-width="0.35" text-anchor="start" fill="#1a1a1a">5: +ZVAD-FMK</text>
<text x="330.4" y="439.72" font-size="7.6" font-weight="bold" stroke="#1a1a1a" stroke-width="0.35" text-anchor="start" fill="#1a1a1a">6: +Necrosulfonamide</text>
<text x="420.9" y="360.33" font-size="13.5" font-weight="bold" stroke="#1a1a1a" stroke-width="0.35" text-anchor="start" fill="#1a1a1a">I</text>
<text x="437" y="358.02" font-size="7.6" font-weight="bold" stroke="#1a1a1a" stroke-width="0.35" text-anchor="start" fill="#1a1a1a">1: Untreated</text>
<text x="437" y="367.12" font-size="7.6" font-weight="bold" stroke="#1a1a1a" stroke-width="0.35" text-anchor="start" fill="#1a1a1a">2: GEM+SAS</text>
<text x="437" y="376.32" font-size="7.6" font-weight="bold" stroke="#1a1a1a" stroke-width="0.35" text-anchor="start" fill="#1a1a1a">3: GEM+SAS+EGCG</text>
<rect x="475.2" y="449.05" width="5.6" height="0.55" fill="#050505"/>
<rect x="483.8" y="404.5" width="5.6" height="45.1" fill="#050505"/>
<line x1="486.5" y1="402.5" x2="486.5" y2="404.5" stroke="#222" stroke-width="0.9"/>
<line x1="485" y1="402.5" x2="488" y2="402.5" stroke="#222" stroke-width="0.9"/>
<rect x="492.1" y="404.5" width="5.6" height="45.1" fill="#050505"/>
<line x1="494.5" y1="401.5" x2="494.5" y2="404.5" stroke="#222" stroke-width="0.9"/>
<line x1="493" y1="401.5" x2="496" y2="401.5" stroke="#222" stroke-width="0.9"/>
<rect x="469.5" y="383.5" width="33" height="66" fill="none" stroke="#868686" stroke-width="1"/>
<line x1="469" y1="449.5" x2="503" y2="449.5" stroke="#3a3a3a" stroke-width="1"/>
<line x1="469.5" y1="383.5" x2="469.5" y2="449.5" stroke="#6a6a6a" stroke-width="1"/>
<line x1="467.2" y1="449.5" x2="469.2" y2="449.5" stroke="#444" stroke-width="0.9"/>
<text x="464.9" y="452.11" font-size="7.3" stroke="#222" stroke-width="0.22" text-anchor="end" fill="#222">0</text>
<line x1="467.2" y1="438.5" x2="469.2" y2="438.5" stroke="#444" stroke-width="0.9"/>
<text x="464.9" y="441.11" font-size="7.3" stroke="#222" stroke-width="0.22" text-anchor="end" fill="#222">20</text>
<line x1="467.2" y1="427.5" x2="469.2" y2="427.5" stroke="#444" stroke-width="0.9"/>
<text x="464.9" y="430.11" font-size="7.3" stroke="#222" stroke-width="0.22" text-anchor="end" fill="#222">40</text>
<line x1="467.2" y1="416.5" x2="469.2" y2="416.5" stroke="#444" stroke-width="0.9"/>
<text x="464.9" y="419.11" font-size="7.3" stroke="#222" stroke-width="0.22" text-anchor="end" fill="#222">60</text>
<line x1="467.2" y1="405.5" x2="469.2" y2="405.5" stroke="#444" stroke-width="0.9"/>
<text x="464.9" y="408.11" font-size="7.3" stroke="#222" stroke-width="0.22" text-anchor="end" fill="#222">80</text>
<line x1="467.2" y1="394.5" x2="469.2" y2="394.5" stroke="#444" stroke-width="0.9"/>
<text x="464.9" y="397.11" font-size="7.3" stroke="#222" stroke-width="0.22" text-anchor="end" fill="#222">100</text>
<text x="478" y="460.61" font-size="7.3" stroke="#222" stroke-width="0.22" text-anchor="middle" fill="#222">1</text>
<text x="486.3" y="460.61" font-size="7.3" stroke="#222" stroke-width="0.22" text-anchor="middle" fill="#222">2</text>
<text x="494.6" y="460.61" font-size="7.3" stroke="#222" stroke-width="0.22" text-anchor="middle" fill="#222">3</text>
<text transform="translate(446.8 418.5) rotate(-90)" x="0" y="2.72" font-size="7.6" font-weight="bold" stroke="#1a1a1a" stroke-width="0.35" text-anchor="middle" fill="#1a1a1a">Cell death (%)</text>
</g>
</svg>
</body>
</html>
